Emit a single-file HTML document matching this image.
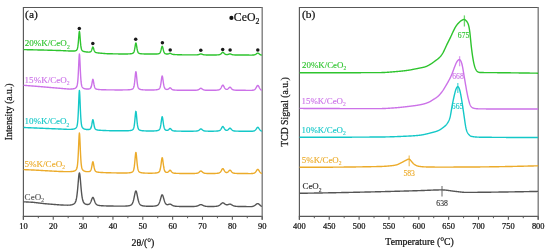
<!DOCTYPE html>
<html><head><meta charset="utf-8"><style>
html,body{margin:0;padding:0;background:#fff;}
svg{display:block;font-family:'Liberation Serif', 'Times New Roman', serif;}
</style></head><body>
<svg width="550" height="251" viewBox="0 0 550 251">
<rect width="550" height="251" fill="#fff"/>
<path d="M23.4,219.70000000000002 L23.4,7.5 L262.2,7.5" fill="none" stroke="#585858" stroke-width="1.15"/>
<line x1="22.849999999999998" y1="216.4" x2="262.8" y2="216.4" stroke="#585858" stroke-width="1.15"/>
<line x1="262.2" y1="6.95" x2="262.2" y2="219.70000000000002" stroke="#7a7a7a" stroke-width="1.35"/>
<line x1="23.40" y1="216.4" x2="23.40" y2="219.70000000000002" stroke="#585858" stroke-width="1.1"/>
<text x="23.40" y="229.0" font-size="8.5" fill="#111" stroke="#111" stroke-width="0.22" text-anchor="middle" >10</text>
<line x1="38.32" y1="216.4" x2="38.32" y2="218.20000000000002" stroke="#585858" stroke-width="1.0"/>
<line x1="53.25" y1="216.4" x2="53.25" y2="219.70000000000002" stroke="#585858" stroke-width="1.1"/>
<text x="53.25" y="229.0" font-size="8.5" fill="#111" stroke="#111" stroke-width="0.22" text-anchor="middle" >20</text>
<line x1="68.17" y1="216.4" x2="68.17" y2="218.20000000000002" stroke="#585858" stroke-width="1.0"/>
<line x1="83.10" y1="216.4" x2="83.10" y2="219.70000000000002" stroke="#585858" stroke-width="1.1"/>
<text x="83.10" y="229.0" font-size="8.5" fill="#111" stroke="#111" stroke-width="0.22" text-anchor="middle" >30</text>
<line x1="98.02" y1="216.4" x2="98.02" y2="218.20000000000002" stroke="#585858" stroke-width="1.0"/>
<line x1="112.95" y1="216.4" x2="112.95" y2="219.70000000000002" stroke="#585858" stroke-width="1.1"/>
<text x="112.95" y="229.0" font-size="8.5" fill="#111" stroke="#111" stroke-width="0.22" text-anchor="middle" >40</text>
<line x1="127.87" y1="216.4" x2="127.87" y2="218.20000000000002" stroke="#585858" stroke-width="1.0"/>
<line x1="142.80" y1="216.4" x2="142.80" y2="219.70000000000002" stroke="#585858" stroke-width="1.1"/>
<text x="142.80" y="229.0" font-size="8.5" fill="#111" stroke="#111" stroke-width="0.22" text-anchor="middle" >50</text>
<line x1="157.72" y1="216.4" x2="157.72" y2="218.20000000000002" stroke="#585858" stroke-width="1.0"/>
<line x1="172.65" y1="216.4" x2="172.65" y2="219.70000000000002" stroke="#585858" stroke-width="1.1"/>
<text x="172.65" y="229.0" font-size="8.5" fill="#111" stroke="#111" stroke-width="0.22" text-anchor="middle" >60</text>
<line x1="187.58" y1="216.4" x2="187.58" y2="218.20000000000002" stroke="#585858" stroke-width="1.0"/>
<line x1="202.50" y1="216.4" x2="202.50" y2="219.70000000000002" stroke="#585858" stroke-width="1.1"/>
<text x="202.50" y="229.0" font-size="8.5" fill="#111" stroke="#111" stroke-width="0.22" text-anchor="middle" >70</text>
<line x1="217.43" y1="216.4" x2="217.43" y2="218.20000000000002" stroke="#585858" stroke-width="1.0"/>
<line x1="232.35" y1="216.4" x2="232.35" y2="219.70000000000002" stroke="#585858" stroke-width="1.1"/>
<text x="232.35" y="229.0" font-size="8.5" fill="#111" stroke="#111" stroke-width="0.22" text-anchor="middle" >80</text>
<line x1="247.28" y1="216.4" x2="247.28" y2="218.20000000000002" stroke="#585858" stroke-width="1.0"/>
<line x1="262.20" y1="216.4" x2="262.20" y2="219.70000000000002" stroke="#585858" stroke-width="1.1"/>
<text x="262.20" y="229.0" font-size="8.5" fill="#111" stroke="#111" stroke-width="0.22" text-anchor="middle" >90</text>
<path d="M299.4,219.70000000000002 L299.4,7.5 L538.2,7.5" fill="none" stroke="#585858" stroke-width="1.15"/>
<line x1="298.84999999999997" y1="216.4" x2="538.8000000000001" y2="216.4" stroke="#585858" stroke-width="1.15"/>
<line x1="538.2" y1="6.95" x2="538.2" y2="219.70000000000002" stroke="#7a7a7a" stroke-width="1.35"/>
<line x1="299.40" y1="216.4" x2="299.40" y2="219.70000000000002" stroke="#585858" stroke-width="1.1"/>
<text x="299.40" y="229.0" font-size="8.4" fill="#111" stroke="#111" stroke-width="0.22" text-anchor="middle" >400</text>
<line x1="314.32" y1="216.4" x2="314.32" y2="218.20000000000002" stroke="#585858" stroke-width="1.0"/>
<line x1="329.25" y1="216.4" x2="329.25" y2="219.70000000000002" stroke="#585858" stroke-width="1.1"/>
<text x="329.25" y="229.0" font-size="8.4" fill="#111" stroke="#111" stroke-width="0.22" text-anchor="middle" >450</text>
<line x1="344.18" y1="216.4" x2="344.18" y2="218.20000000000002" stroke="#585858" stroke-width="1.0"/>
<line x1="359.10" y1="216.4" x2="359.10" y2="219.70000000000002" stroke="#585858" stroke-width="1.1"/>
<text x="359.10" y="229.0" font-size="8.4" fill="#111" stroke="#111" stroke-width="0.22" text-anchor="middle" >500</text>
<line x1="374.03" y1="216.4" x2="374.03" y2="218.20000000000002" stroke="#585858" stroke-width="1.0"/>
<line x1="388.95" y1="216.4" x2="388.95" y2="219.70000000000002" stroke="#585858" stroke-width="1.1"/>
<text x="388.95" y="229.0" font-size="8.4" fill="#111" stroke="#111" stroke-width="0.22" text-anchor="middle" >550</text>
<line x1="403.88" y1="216.4" x2="403.88" y2="218.20000000000002" stroke="#585858" stroke-width="1.0"/>
<line x1="418.80" y1="216.4" x2="418.80" y2="219.70000000000002" stroke="#585858" stroke-width="1.1"/>
<text x="418.80" y="229.0" font-size="8.4" fill="#111" stroke="#111" stroke-width="0.22" text-anchor="middle" >600</text>
<line x1="433.73" y1="216.4" x2="433.73" y2="218.20000000000002" stroke="#585858" stroke-width="1.0"/>
<line x1="448.65" y1="216.4" x2="448.65" y2="219.70000000000002" stroke="#585858" stroke-width="1.1"/>
<text x="448.65" y="229.0" font-size="8.4" fill="#111" stroke="#111" stroke-width="0.22" text-anchor="middle" >650</text>
<line x1="463.58" y1="216.4" x2="463.58" y2="218.20000000000002" stroke="#585858" stroke-width="1.0"/>
<line x1="478.50" y1="216.4" x2="478.50" y2="219.70000000000002" stroke="#585858" stroke-width="1.1"/>
<text x="478.50" y="229.0" font-size="8.4" fill="#111" stroke="#111" stroke-width="0.22" text-anchor="middle" >700</text>
<line x1="493.43" y1="216.4" x2="493.43" y2="218.20000000000002" stroke="#585858" stroke-width="1.0"/>
<line x1="508.35" y1="216.4" x2="508.35" y2="219.70000000000002" stroke="#585858" stroke-width="1.1"/>
<text x="508.35" y="229.0" font-size="8.4" fill="#111" stroke="#111" stroke-width="0.22" text-anchor="middle" >750</text>
<line x1="523.27" y1="216.4" x2="523.27" y2="218.20000000000002" stroke="#585858" stroke-width="1.0"/>
<line x1="538.20" y1="216.4" x2="538.20" y2="219.70000000000002" stroke="#585858" stroke-width="1.1"/>
<text x="538.20" y="229.0" font-size="8.4" fill="#111" stroke="#111" stroke-width="0.22" text-anchor="middle" >800</text>
<polyline points="23.60,49.60 23.85,49.61 24.10,49.61 24.35,49.62 24.60,49.62 24.85,49.63 25.10,49.64 25.35,49.64 25.60,49.65 25.85,49.65 26.10,49.66 26.35,49.66 26.60,49.67 26.85,49.68 27.10,49.68 27.35,49.69 27.60,49.69 27.85,49.70 28.10,49.71 28.35,49.71 28.60,49.72 28.85,49.72 29.10,49.73 29.35,49.74 29.60,49.74 29.85,49.75 30.10,49.75 30.35,49.76 30.60,49.76 30.85,49.77 31.10,49.78 31.35,49.78 31.60,49.79 31.85,49.79 32.10,49.80 32.35,49.81 32.60,49.81 32.85,49.82 33.10,49.82 33.35,49.83 33.60,49.83 33.85,49.84 34.10,49.85 34.35,49.85 34.60,49.86 34.85,49.86 35.10,49.87 35.35,49.88 35.60,49.88 35.85,49.89 36.10,49.89 36.35,49.90 36.60,49.91 36.85,49.91 37.10,49.92 37.35,49.92 37.60,49.93 37.85,49.93 38.10,49.94 38.35,49.95 38.60,49.95 38.85,49.96 39.10,49.96 39.35,49.97 39.60,49.97 39.85,49.98 40.10,49.99 40.35,49.99 40.60,50.00 40.85,50.00 41.10,50.01 41.35,50.02 41.60,50.02 41.85,50.03 42.10,50.03 42.35,50.04 42.60,50.04 42.85,50.05 43.10,50.06 43.35,50.06 43.60,50.07 43.85,50.07 44.10,50.08 44.35,50.09 44.60,50.09 44.85,50.10 45.10,50.10 45.35,50.11 45.60,50.12 45.85,50.13 46.10,50.13 46.35,50.14 46.60,50.15 46.85,50.16 47.10,50.16 47.35,50.17 47.60,50.18 47.85,50.19 48.10,50.19 48.35,50.20 48.60,50.21 48.85,50.22 49.10,50.23 49.35,50.23 49.60,50.24 49.85,50.25 50.10,50.26 50.35,50.26 50.60,50.27 50.85,50.28 51.10,50.29 51.35,50.29 51.60,50.30 51.85,50.31 52.10,50.32 52.35,50.32 52.60,50.33 52.85,50.34 53.10,50.35 53.35,50.35 53.60,50.36 53.85,50.37 54.10,50.38 54.35,50.38 54.60,50.39 54.85,50.40 55.10,50.41 55.35,50.41 55.60,50.42 55.85,50.43 56.10,50.43 56.35,50.44 56.60,50.45 56.85,50.46 57.10,50.46 57.35,50.47 57.60,50.48 57.85,50.49 58.10,50.49 58.35,50.50 58.60,50.51 58.85,50.51 59.10,50.52 59.35,50.53 59.60,50.53 59.85,50.54 60.10,50.55 60.35,50.56 60.60,50.56 60.85,50.57 61.10,50.58 61.35,50.58 61.60,50.59 61.85,50.60 62.10,50.61 62.35,50.62 62.60,50.63 62.85,50.65 63.10,50.66 63.35,50.68 63.60,50.69 63.85,50.71 64.10,50.72 64.35,50.73 64.60,50.75 64.85,50.76 65.10,50.77 65.35,50.79 65.60,50.80 65.85,50.81 66.10,50.83 66.35,50.84 66.60,50.85 66.85,50.86 67.10,50.88 67.35,50.89 67.60,50.90 67.85,50.91 68.10,50.92 68.35,50.94 68.60,50.95 68.85,50.96 69.10,50.97 69.35,50.98 69.60,50.99 69.85,50.99 70.10,51.00 70.35,51.01 70.60,51.02 70.85,51.03 71.10,51.04 71.35,51.04 71.60,51.05 71.85,51.05 72.10,51.06 72.35,51.06 72.60,51.06 72.85,51.05 73.10,51.05 73.35,51.04 73.60,51.03 73.85,51.02 74.10,51.00 74.35,50.97 74.60,50.94 74.85,50.90 75.10,50.85 75.35,50.80 75.60,50.72 75.85,50.63 76.10,50.51 76.35,50.36 76.60,50.15 76.85,49.86 77.10,49.44 77.35,48.80 77.60,47.85 77.85,46.46 78.10,44.53 78.35,42.00 78.60,38.96 78.85,35.69 79.10,32.86 79.35,31.44 79.60,32.10 79.85,34.51 80.10,37.74 80.35,40.96 80.60,43.75 80.85,45.95 81.10,47.58 81.35,48.72 81.60,49.51 81.85,50.04 82.10,50.41 82.35,50.68 82.60,50.88 82.85,51.04 83.10,51.18 83.35,51.29 83.60,51.39 83.85,51.47 84.10,51.54 84.35,51.61 84.60,51.67 84.85,51.72 85.10,51.77 85.35,51.81 85.60,51.85 85.85,51.88 86.10,51.92 86.35,51.95 86.60,51.97 86.85,52.00 87.10,52.02 87.35,52.04 87.60,52.05 87.85,52.07 88.10,52.08 88.35,52.09 88.60,52.09 88.85,52.09 89.10,52.08 89.35,52.07 89.60,52.05 89.85,52.01 90.10,51.95 90.35,51.86 90.60,51.72 90.85,51.51 91.10,51.21 91.35,50.79 91.60,50.23 91.85,49.55 92.10,48.77 92.35,47.97 92.60,47.31 92.85,47.01 93.10,47.17 93.35,47.75 93.60,48.55 93.85,49.40 94.10,50.17 94.35,50.81 94.60,51.33 94.85,51.71 95.10,52.00 95.35,52.20 95.60,52.35 95.85,52.47 96.10,52.55 96.35,52.62 96.60,52.68 96.85,52.73 97.10,52.78 97.35,52.82 97.60,52.86 97.85,52.90 98.10,52.93 98.35,52.96 98.60,52.99 98.85,53.02 99.10,53.05 99.35,53.07 99.60,53.10 99.85,53.12 100.10,53.15 100.35,53.17 100.60,53.19 100.85,53.22 101.10,53.24 101.35,53.26 101.60,53.28 101.85,53.30 102.10,53.32 102.35,53.34 102.60,53.36 102.85,53.38 103.10,53.40 103.35,53.42 103.60,53.44 103.85,53.46 104.10,53.48 104.35,53.50 104.60,53.52 104.85,53.54 105.10,53.56 105.35,53.58 105.60,53.60 105.85,53.61 106.10,53.63 106.35,53.65 106.60,53.67 106.85,53.69 107.10,53.70 107.35,53.71 107.60,53.71 107.85,53.72 108.10,53.73 108.35,53.73 108.60,53.74 108.85,53.74 109.10,53.75 109.35,53.75 109.60,53.76 109.85,53.76 110.10,53.77 110.35,53.77 110.60,53.78 110.85,53.78 111.10,53.79 111.35,53.79 111.60,53.80 111.85,53.80 112.10,53.81 112.35,53.82 112.60,53.82 112.85,53.83 113.10,53.83 113.35,53.84 113.60,53.84 113.85,53.84 114.10,53.85 114.35,53.85 114.60,53.86 114.85,53.86 115.10,53.87 115.35,53.87 115.60,53.88 115.85,53.88 116.10,53.89 116.35,53.89 116.60,53.90 116.85,53.90 117.10,53.91 117.35,53.91 117.60,53.92 117.85,53.92 118.10,53.92 118.35,53.93 118.60,53.93 118.85,53.94 119.10,53.94 119.35,53.95 119.60,53.95 119.85,53.95 120.10,53.96 120.35,53.96 120.60,53.97 120.85,53.97 121.10,53.97 121.35,53.98 121.60,53.98 121.85,53.98 122.10,53.99 122.35,53.99 122.60,53.99 122.85,54.00 123.10,54.00 123.35,54.00 123.60,54.00 123.85,53.99 124.10,53.99 124.35,53.99 124.60,53.99 124.85,53.98 125.10,53.98 125.35,53.98 125.60,53.98 125.85,53.97 126.10,53.97 126.35,53.96 126.60,53.96 126.85,53.95 127.10,53.95 127.35,53.94 127.60,53.94 127.85,53.93 128.10,53.92 128.35,53.91 128.60,53.90 128.85,53.89 129.10,53.88 129.35,53.87 129.60,53.85 129.85,53.84 130.10,53.82 130.35,53.80 130.60,53.77 130.85,53.75 131.10,53.71 131.35,53.68 131.60,53.64 131.85,53.58 132.10,53.52 132.35,53.45 132.60,53.36 132.85,53.24 133.10,53.08 133.35,52.86 133.60,52.54 133.85,52.09 134.10,51.45 134.35,50.58 134.60,49.45 134.85,48.07 135.10,46.49 135.35,44.89 135.60,43.56 135.85,42.92 136.10,43.20 136.35,44.30 136.60,45.84 136.85,47.46 137.10,48.93 137.35,50.16 137.60,51.13 137.85,51.86 138.10,52.38 138.35,52.75 138.60,53.00 138.85,53.18 139.10,53.32 139.35,53.42 139.60,53.50 139.85,53.57 140.10,53.62 140.35,53.67 140.60,53.71 140.85,53.74 141.10,53.77 141.35,53.79 141.60,53.82 141.85,53.84 142.10,53.85 142.35,53.87 142.60,53.88 142.85,53.89 143.10,53.91 143.35,53.92 143.60,53.92 143.85,53.93 144.10,53.94 144.35,53.95 144.60,53.95 144.85,53.96 145.10,53.96 145.35,53.97 145.60,53.97 145.85,53.98 146.10,53.98 146.35,53.98 146.60,53.99 146.85,53.99 147.10,53.99 147.35,53.99 147.60,53.99 147.85,54.00 148.10,54.00 148.35,54.00 148.60,54.00 148.85,54.00 149.10,54.00 149.35,54.00 149.60,54.00 149.85,54.00 150.10,54.00 150.35,54.01 150.60,54.01 150.85,54.02 151.10,54.02 151.35,54.03 151.60,54.03 151.85,54.03 152.10,54.04 152.35,54.04 152.60,54.04 152.85,54.05 153.10,54.05 153.35,54.05 153.60,54.05 153.85,54.05 154.10,54.05 154.35,54.05 154.60,54.05 154.85,54.05 155.10,54.05 155.35,54.04 155.60,54.04 155.85,54.03 156.10,54.02 156.35,54.01 156.60,54.00 156.85,53.99 157.10,53.97 157.35,53.95 157.60,53.92 157.85,53.89 158.10,53.86 158.35,53.81 158.60,53.75 158.85,53.68 159.10,53.58 159.35,53.44 159.60,53.25 159.85,52.99 160.10,52.62 160.35,52.13 160.60,51.49 160.85,50.68 161.10,49.73 161.35,48.68 161.60,47.62 161.85,46.74 162.10,46.24 162.35,46.31 162.60,46.90 162.85,47.85 163.10,48.93 163.35,49.98 163.60,50.91 163.85,51.69 164.10,52.31 164.35,52.78 164.60,53.13 164.85,53.39 165.10,53.57 165.35,53.71 165.60,53.81 165.85,53.88 166.10,53.94 166.35,53.98 166.60,54.02 166.85,54.04 167.10,54.05 167.35,54.05 167.60,54.03 167.85,54.00 168.10,53.95 168.35,53.88 168.60,53.80 168.85,53.70 169.10,53.59 169.35,53.48 169.60,53.38 169.85,53.32 170.10,53.30 170.35,53.34 170.60,53.43 170.85,53.56 171.10,53.70 171.35,53.84 171.60,53.97 171.85,54.08 172.10,54.18 172.35,54.26 172.60,54.33 172.85,54.38 173.10,54.42 173.35,54.46 173.60,54.49 173.85,54.51 174.10,54.53 174.35,54.55 174.60,54.56 174.85,54.58 175.10,54.59 175.35,54.60 175.60,54.61 175.85,54.62 176.10,54.64 176.35,54.65 176.60,54.66 176.85,54.66 177.10,54.67 177.35,54.68 177.60,54.69 177.85,54.70 178.10,54.71 178.35,54.72 178.60,54.72 178.85,54.73 179.10,54.74 179.35,54.75 179.60,54.75 179.85,54.76 180.10,54.77 180.35,54.78 180.60,54.78 180.85,54.79 181.10,54.80 181.35,54.80 181.60,54.81 181.85,54.82 182.10,54.83 182.35,54.83 182.60,54.84 182.85,54.84 183.10,54.85 183.35,54.86 183.60,54.86 183.85,54.87 184.10,54.88 184.35,54.88 184.60,54.89 184.85,54.90 185.10,54.90 185.35,54.90 185.60,54.90 185.85,54.90 186.10,54.91 186.35,54.91 186.60,54.91 186.85,54.91 187.10,54.91 187.35,54.91 187.60,54.91 187.85,54.91 188.10,54.92 188.35,54.92 188.60,54.92 188.85,54.92 189.10,54.92 189.35,54.92 189.60,54.92 189.85,54.92 190.10,54.92 190.35,54.92 190.60,54.92 190.85,54.92 191.10,54.92 191.35,54.92 191.60,54.92 191.85,54.92 192.10,54.92 192.35,54.92 192.60,54.92 192.85,54.92 193.10,54.92 193.35,54.92 193.60,54.92 193.85,54.92 194.10,54.92 194.35,54.92 194.60,54.91 194.85,54.91 195.10,54.91 195.35,54.90 195.60,54.90 195.85,54.89 196.10,54.89 196.35,54.88 196.60,54.87 196.85,54.85 197.10,54.84 197.35,54.82 197.60,54.79 197.85,54.75 198.10,54.71 198.35,54.66 198.60,54.60 198.85,54.52 199.10,54.44 199.35,54.35 199.60,54.25 199.85,54.16 200.10,54.06 200.35,53.98 200.60,53.93 200.85,53.90 201.10,53.91 201.35,53.96 201.60,54.03 201.85,54.13 202.10,54.22 202.35,54.32 202.60,54.42 202.85,54.51 203.10,54.59 203.35,54.65 203.60,54.71 203.85,54.76 204.10,54.80 204.35,54.83 204.60,54.86 204.85,54.88 205.10,54.90 205.35,54.91 205.60,54.92 205.85,54.93 206.10,54.94 206.35,54.95 206.60,54.95 206.85,54.96 207.10,54.96 207.35,54.97 207.60,54.97 207.85,54.98 208.10,54.98 208.35,54.98 208.60,54.98 208.85,54.99 209.10,54.99 209.35,54.99 209.60,54.99 209.85,54.99 210.10,54.99 210.35,55.00 210.60,55.00 210.85,55.00 211.10,55.00 211.35,55.00 211.60,55.00 211.85,55.00 212.10,55.00 212.35,55.00 212.60,55.00 212.85,54.99 213.10,54.99 213.35,54.99 213.60,54.99 213.85,54.99 214.10,54.98 214.35,54.98 214.60,54.98 214.85,54.97 215.10,54.97 215.35,54.96 215.60,54.96 215.85,54.95 216.10,54.94 216.35,54.94 216.60,54.93 216.85,54.92 217.10,54.91 217.35,54.90 217.60,54.88 217.85,54.87 218.10,54.85 218.35,54.83 218.60,54.80 218.85,54.76 219.10,54.72 219.35,54.66 219.60,54.59 219.85,54.51 220.10,54.40 220.35,54.26 220.60,54.10 220.85,53.91 221.10,53.69 221.35,53.44 221.60,53.18 221.85,52.92 222.10,52.67 222.35,52.47 222.60,52.34 222.85,52.30 223.10,52.37 223.35,52.53 223.60,52.75 223.85,53.00 224.10,53.26 224.35,53.51 224.60,53.74 224.85,53.95 225.10,54.12 225.35,54.26 225.60,54.37 225.85,54.46 226.10,54.53 226.35,54.57 226.60,54.60 226.85,54.61 227.10,54.61 227.35,54.59 227.60,54.55 227.85,54.51 228.10,54.44 228.35,54.37 228.60,54.28 228.85,54.19 229.10,54.10 229.35,54.01 229.60,53.94 229.85,53.90 230.10,53.91 230.35,53.95 230.60,54.02 230.85,54.11 231.10,54.22 231.35,54.33 231.60,54.43 231.85,54.52 232.10,54.60 232.35,54.67 232.60,54.73 232.85,54.78 233.10,54.82 233.35,54.85 233.60,54.87 233.85,54.89 234.10,54.91 234.35,54.92 234.60,54.93 234.85,54.94 235.10,54.95 235.35,54.95 235.60,54.96 235.85,54.97 236.10,54.97 236.35,54.97 236.60,54.98 236.85,54.98 237.10,54.98 237.35,54.99 237.60,54.99 237.85,54.99 238.10,54.99 238.35,54.99 238.60,54.99 238.85,55.00 239.10,55.00 239.35,55.00 239.60,55.00 239.85,55.00 240.10,55.00 240.35,55.00 240.60,55.00 240.85,55.00 241.10,55.00 241.35,55.00 241.60,55.00 241.85,55.00 242.10,55.00 242.35,55.00 242.60,55.00 242.85,55.00 243.10,55.00 243.35,55.00 243.60,55.00 243.85,55.00 244.10,55.00 244.35,55.00 244.60,55.00 244.85,55.00 245.10,55.00 245.35,55.01 245.60,55.01 245.85,55.02 246.10,55.02 246.35,55.03 246.60,55.03 246.85,55.04 247.10,55.04 247.35,55.05 247.60,55.05 247.85,55.06 248.10,55.06 248.35,55.06 248.60,55.07 248.85,55.07 249.10,55.07 249.35,55.08 249.60,55.08 249.85,55.08 250.10,55.08 250.35,55.09 250.60,55.09 250.85,55.09 251.10,55.09 251.35,55.09 251.60,55.08 251.85,55.08 252.10,55.08 252.35,55.07 252.60,55.06 252.85,55.05 253.10,55.03 253.35,55.01 253.60,54.99 253.85,54.96 254.10,54.91 254.35,54.86 254.60,54.79 254.85,54.71 255.10,54.62 255.35,54.50 255.60,54.36 255.85,54.21 256.10,54.04 256.35,53.86 256.60,53.67 256.85,53.49 257.10,53.32 257.35,53.19 257.60,53.12 257.85,53.10 258.10,53.16 258.35,53.27 258.60,53.43 258.85,53.61 259.10,53.81 259.35,54.01 259.60,54.20 259.85,54.38 260.10,54.54 260.35,54.68 260.60,54.80 260.85,54.90 261.10,54.99 261.35,55.06 261.60,55.12 261.85,55.17" fill="none" stroke="#2ec42e" stroke-width="1.4" stroke-linejoin="round"/>
<polyline points="299.60,72.70 299.85,72.70 300.10,72.70 300.35,72.70 300.60,72.70 300.85,72.70 301.10,72.70 301.35,72.70 301.60,72.70 301.85,72.70 302.10,72.70 302.35,72.70 302.60,72.70 302.85,72.70 303.10,72.70 303.35,72.70 303.60,72.70 303.85,72.70 304.10,72.70 304.35,72.70 304.60,72.70 304.85,72.70 305.10,72.70 305.35,72.70 305.60,72.70 305.85,72.70 306.10,72.70 306.35,72.70 306.60,72.70 306.85,72.70 307.10,72.70 307.35,72.70 307.60,72.70 307.85,72.70 308.10,72.70 308.35,72.70 308.60,72.70 308.85,72.70 309.10,72.70 309.35,72.70 309.60,72.70 309.85,72.70 310.10,72.70 310.35,72.70 310.60,72.70 310.85,72.70 311.10,72.70 311.35,72.70 311.60,72.70 311.85,72.70 312.10,72.70 312.35,72.70 312.60,72.70 312.85,72.70 313.10,72.70 313.35,72.70 313.60,72.70 313.85,72.70 314.10,72.70 314.35,72.70 314.60,72.70 314.85,72.70 315.10,72.70 315.35,72.70 315.60,72.70 315.85,72.70 316.10,72.70 316.35,72.70 316.60,72.70 316.85,72.70 317.10,72.70 317.35,72.70 317.60,72.70 317.85,72.70 318.10,72.70 318.35,72.70 318.60,72.70 318.85,72.70 319.10,72.70 319.35,72.70 319.60,72.70 319.85,72.70 320.10,72.70 320.35,72.70 320.60,72.70 320.85,72.70 321.10,72.70 321.35,72.70 321.60,72.70 321.85,72.70 322.10,72.70 322.35,72.70 322.60,72.70 322.85,72.70 323.10,72.70 323.35,72.70 323.60,72.70 323.85,72.70 324.10,72.70 324.35,72.70 324.60,72.70 324.85,72.70 325.10,72.70 325.35,72.70 325.60,72.70 325.85,72.70 326.10,72.70 326.35,72.70 326.60,72.70 326.85,72.70 327.10,72.70 327.35,72.70 327.60,72.70 327.85,72.70 328.10,72.70 328.35,72.70 328.60,72.70 328.85,72.70 329.10,72.70 329.35,72.70 329.60,72.70 329.85,72.70 330.10,72.70 330.35,72.70 330.60,72.70 330.85,72.70 331.10,72.70 331.35,72.70 331.60,72.70 331.85,72.70 332.10,72.70 332.35,72.70 332.60,72.70 332.85,72.70 333.10,72.70 333.35,72.70 333.60,72.70 333.85,72.70 334.10,72.70 334.35,72.70 334.60,72.70 334.85,72.70 335.10,72.70 335.35,72.70 335.60,72.70 335.85,72.70 336.10,72.70 336.35,72.70 336.60,72.70 336.85,72.70 337.10,72.70 337.35,72.70 337.60,72.70 337.85,72.70 338.10,72.70 338.35,72.70 338.60,72.70 338.85,72.70 339.10,72.70 339.35,72.70 339.60,72.70 339.85,72.70 340.10,72.70 340.35,72.70 340.60,72.70 340.85,72.70 341.10,72.70 341.35,72.70 341.60,72.70 341.85,72.70 342.10,72.70 342.35,72.70 342.60,72.70 342.85,72.70 343.10,72.70 343.35,72.70 343.60,72.70 343.85,72.70 344.10,72.70 344.35,72.70 344.60,72.70 344.85,72.70 345.10,72.70 345.35,72.70 345.60,72.70 345.85,72.70 346.10,72.70 346.35,72.70 346.60,72.70 346.85,72.70 347.10,72.70 347.35,72.70 347.60,72.70 347.85,72.70 348.10,72.70 348.35,72.70 348.60,72.70 348.85,72.70 349.10,72.70 349.35,72.70 349.60,72.70 349.85,72.69 350.10,72.69 350.35,72.69 350.60,72.69 350.85,72.69 351.10,72.69 351.35,72.69 351.60,72.69 351.85,72.69 352.10,72.69 352.35,72.69 352.60,72.69 352.85,72.69 353.10,72.69 353.35,72.69 353.60,72.69 353.85,72.69 354.10,72.69 354.35,72.69 354.60,72.69 354.85,72.69 355.10,72.69 355.35,72.69 355.60,72.69 355.85,72.69 356.10,72.69 356.35,72.69 356.60,72.68 356.85,72.68 357.10,72.68 357.35,72.68 357.60,72.68 357.85,72.68 358.10,72.68 358.35,72.68 358.60,72.68 358.85,72.68 359.10,72.68 359.35,72.68 359.60,72.68 359.85,72.68 360.10,72.68 360.35,72.68 360.60,72.68 360.85,72.68 361.10,72.67 361.35,72.67 361.60,72.67 361.85,72.67 362.10,72.67 362.35,72.67 362.60,72.67 362.85,72.67 363.10,72.67 363.35,72.67 363.60,72.67 363.85,72.67 364.10,72.67 364.35,72.67 364.60,72.67 364.85,72.66 365.10,72.66 365.35,72.66 365.60,72.66 365.85,72.66 366.10,72.66 366.35,72.66 366.60,72.66 366.85,72.66 367.10,72.66 367.35,72.66 367.60,72.66 367.85,72.65 368.10,72.65 368.35,72.65 368.60,72.65 368.85,72.65 369.10,72.65 369.35,72.65 369.60,72.65 369.85,72.65 370.10,72.65 370.35,72.65 370.60,72.64 370.85,72.64 371.10,72.64 371.35,72.64 371.60,72.64 371.85,72.64 372.10,72.64 372.35,72.64 372.60,72.64 372.85,72.64 373.10,72.63 373.35,72.63 373.60,72.63 373.85,72.63 374.10,72.63 374.35,72.63 374.60,72.63 374.85,72.63 375.10,72.62 375.35,72.62 375.60,72.62 375.85,72.62 376.10,72.62 376.35,72.62 376.60,72.62 376.85,72.62 377.10,72.62 377.35,72.61 377.60,72.61 377.85,72.61 378.10,72.61 378.35,72.61 378.60,72.61 378.85,72.61 379.10,72.60 379.35,72.60 379.60,72.60 379.85,72.60 380.10,72.60 380.35,72.60 380.60,72.59 380.85,72.59 381.10,72.58 381.35,72.58 381.60,72.57 381.85,72.57 382.10,72.56 382.35,72.55 382.60,72.55 382.85,72.54 383.10,72.53 383.35,72.52 383.60,72.51 383.85,72.50 384.10,72.49 384.35,72.47 384.60,72.46 384.85,72.45 385.10,72.43 385.35,72.42 385.60,72.41 385.85,72.39 386.10,72.38 386.35,72.36 386.60,72.34 386.85,72.33 387.10,72.31 387.35,72.29 387.60,72.28 387.85,72.26 388.10,72.24 388.35,72.22 388.60,72.20 388.85,72.19 389.10,72.17 389.35,72.15 389.60,72.13 389.85,72.11 390.10,72.09 390.35,72.07 390.60,72.05 390.85,72.03 391.10,72.01 391.35,71.99 391.60,71.97 391.85,71.95 392.10,71.92 392.35,71.90 392.60,71.88 392.85,71.86 393.10,71.84 393.35,71.82 393.60,71.80 393.85,71.78 394.10,71.76 394.35,71.74 394.60,71.71 394.85,71.69 395.10,71.67 395.35,71.65 395.60,71.63 395.85,71.61 396.10,71.59 396.35,71.57 396.60,71.55 396.85,71.53 397.10,71.51 397.35,71.49 397.60,71.47 397.85,71.44 398.10,71.42 398.35,71.40 398.60,71.38 398.85,71.35 399.10,71.33 399.35,71.31 399.60,71.28 399.85,71.26 400.10,71.23 400.35,71.21 400.60,71.18 400.85,71.16 401.10,71.13 401.35,71.11 401.60,71.08 401.85,71.05 402.10,71.03 402.35,71.00 402.60,70.97 402.85,70.95 403.10,70.92 403.35,70.89 403.60,70.86 403.85,70.83 404.10,70.80 404.35,70.77 404.60,70.74 404.85,70.71 405.10,70.68 405.35,70.65 405.60,70.62 405.85,70.59 406.10,70.55 406.35,70.52 406.60,70.49 406.85,70.46 407.10,70.42 407.35,70.39 407.60,70.35 407.85,70.32 408.10,70.28 408.35,70.25 408.60,70.21 408.85,70.17 409.10,70.13 409.35,70.09 409.60,70.05 409.85,70.00 410.10,69.96 410.35,69.92 410.60,69.87 410.85,69.82 411.10,69.78 411.35,69.73 411.60,69.68 411.85,69.63 412.10,69.58 412.35,69.53 412.60,69.48 412.85,69.43 413.10,69.38 413.35,69.33 413.60,69.28 413.85,69.23 414.10,69.18 414.35,69.13 414.60,69.08 414.85,69.03 415.10,68.98 415.35,68.93 415.60,68.88 415.85,68.83 416.10,68.78 416.35,68.73 416.60,68.68 416.85,68.63 417.10,68.58 417.35,68.54 417.60,68.49 417.85,68.44 418.10,68.39 418.35,68.34 418.60,68.29 418.85,68.24 419.10,68.19 419.35,68.13 419.60,68.08 419.85,68.03 420.10,67.98 420.35,67.93 420.60,67.88 420.85,67.83 421.10,67.78 421.35,67.73 421.60,67.68 421.85,67.63 422.10,67.59 422.35,67.54 422.60,67.48 422.85,67.43 423.10,67.38 423.35,67.32 423.60,67.26 423.85,67.20 424.10,67.14 424.35,67.07 424.60,67.01 424.85,66.93 425.10,66.85 425.35,66.77 425.60,66.68 425.85,66.59 426.10,66.49 426.35,66.39 426.60,66.28 426.85,66.17 427.10,66.05 427.35,65.93 427.60,65.81 427.85,65.68 428.10,65.55 428.35,65.42 428.60,65.28 428.85,65.14 429.10,65.01 429.35,64.87 429.60,64.72 429.85,64.58 430.10,64.43 430.35,64.28 430.60,64.13 430.85,63.98 431.10,63.81 431.35,63.65 431.60,63.48 431.85,63.31 432.10,63.14 432.35,62.96 432.60,62.78 432.85,62.60 433.10,62.42 433.35,62.23 433.60,62.05 433.85,61.86 434.10,61.68 434.35,61.49 434.60,61.30 434.85,61.12 435.10,60.93 435.35,60.75 435.60,60.56 435.85,60.38 436.10,60.20 436.35,60.02 436.60,59.84 436.85,59.66 437.10,59.47 437.35,59.29 437.60,59.10 437.85,58.90 438.10,58.71 438.35,58.50 438.60,58.29 438.85,58.07 439.10,57.85 439.35,57.62 439.60,57.37 439.85,57.12 440.10,56.85 440.35,56.57 440.60,56.28 440.85,55.97 441.10,55.65 441.35,55.31 441.60,54.96 441.85,54.60 442.10,54.22 442.35,53.83 442.60,53.42 442.85,53.00 443.10,52.55 443.35,52.09 443.60,51.61 443.85,51.11 444.10,50.60 444.35,50.08 444.60,49.55 444.85,49.02 445.10,48.48 445.35,47.93 445.60,47.38 445.85,46.83 446.10,46.29 446.35,45.74 446.60,45.20 446.85,44.66 447.10,44.13 447.35,43.61 447.60,43.10 447.85,42.59 448.10,42.09 448.35,41.59 448.60,41.10 448.85,40.60 449.10,40.11 449.35,39.62 449.60,39.12 449.85,38.62 450.10,38.12 450.35,37.61 450.60,37.09 450.85,36.56 451.10,36.02 451.35,35.48 451.60,34.92 451.85,34.37 452.10,33.81 452.35,33.25 452.60,32.71 452.85,32.17 453.10,31.64 453.35,31.11 453.60,30.60 453.85,30.10 454.10,29.60 454.35,29.11 454.60,28.63 454.85,28.16 455.10,27.70 455.35,27.26 455.60,26.84 455.85,26.44 456.10,26.05 456.35,25.68 456.60,25.33 456.85,24.99 457.10,24.67 457.35,24.35 457.60,24.05 457.85,23.75 458.10,23.47 458.35,23.19 458.60,22.93 458.85,22.67 459.10,22.42 459.35,22.18 459.60,21.94 459.85,21.72 460.10,21.50 460.35,21.30 460.60,21.11 460.85,20.93 461.10,20.76 461.35,20.59 461.60,20.44 461.85,20.29 462.10,20.14 462.35,20.00 462.60,19.88 462.85,19.76 463.10,19.67 463.35,19.59 463.60,19.53 463.85,19.50 464.10,19.50 464.35,19.53 464.60,19.60 464.85,19.70 465.10,19.84 465.35,20.01 465.60,20.21 465.85,20.43 466.10,20.68 466.35,20.95 466.60,21.25 466.85,21.56 467.10,21.92 467.35,22.31 467.60,22.77 467.85,23.28 468.10,23.88 468.35,24.58 468.60,25.39 468.85,26.36 469.10,27.52 469.35,28.90 469.60,30.53 469.85,32.44 470.10,34.63 470.35,37.04 470.60,39.59 470.85,42.14 471.10,44.58 471.35,46.86 471.60,48.97 471.85,50.94 472.10,52.82 472.35,54.62 472.60,56.34 472.85,57.96 473.10,59.47 473.35,60.86 473.60,62.12 473.85,63.28 474.10,64.33 474.35,65.30 474.60,66.19 474.85,67.01 475.10,67.76 475.35,68.43 475.60,69.03 475.85,69.54 476.10,69.98 476.35,70.36 476.60,70.69 476.85,70.97 477.10,71.22 477.35,71.45 477.60,71.64 477.85,71.82 478.10,71.97 478.35,72.10 478.60,72.20 478.85,72.29 479.10,72.35 479.35,72.40 479.60,72.44 479.85,72.47 480.10,72.49 480.35,72.50 480.60,72.51 480.85,72.52 481.10,72.53 481.35,72.53 481.60,72.54 481.85,72.54 482.10,72.55 482.35,72.55 482.60,72.56 482.85,72.56 483.10,72.56 483.35,72.57 483.60,72.57 483.85,72.58 484.10,72.58 484.35,72.58 484.60,72.59 484.85,72.59 485.10,72.59 485.35,72.60 485.60,72.60 485.85,72.60 486.10,72.60 486.35,72.61 486.60,72.61 486.85,72.61 487.10,72.61 487.35,72.62 487.60,72.62 487.85,72.62 488.10,72.62 488.35,72.62 488.60,72.63 488.85,72.63 489.10,72.63 489.35,72.63 489.60,72.63 489.85,72.63 490.10,72.64 490.35,72.64 490.60,72.64 490.85,72.64 491.10,72.64 491.35,72.64 491.60,72.64 491.85,72.65 492.10,72.65 492.35,72.65 492.60,72.65 492.85,72.65 493.10,72.65 493.35,72.65 493.60,72.65 493.85,72.66 494.10,72.66 494.35,72.66 494.60,72.66 494.85,72.66 495.10,72.66 495.35,72.66 495.60,72.66 495.85,72.67 496.10,72.67 496.35,72.67 496.60,72.67 496.85,72.67 497.10,72.67 497.35,72.68 497.60,72.68 497.85,72.68 498.10,72.68 498.35,72.68 498.60,72.69 498.85,72.69 499.10,72.69 499.35,72.69 499.60,72.70 499.85,72.70 500.10,72.70 500.35,72.70 500.60,72.71 500.85,72.71 501.10,72.71 501.35,72.72 501.60,72.72 501.85,72.72 502.10,72.72 502.35,72.73 502.60,72.73 502.85,72.73 503.10,72.74 503.35,72.74 503.60,72.74 503.85,72.74 504.10,72.75 504.35,72.75 504.60,72.75 504.85,72.76 505.10,72.76 505.35,72.76 505.60,72.76 505.85,72.77 506.10,72.77 506.35,72.77 506.60,72.78 506.85,72.78 507.10,72.78 507.35,72.78 507.60,72.79 507.85,72.79 508.10,72.79 508.35,72.80 508.60,72.80 508.85,72.80 509.10,72.81 509.35,72.81 509.60,72.81 509.85,72.81 510.10,72.82 510.35,72.82 510.60,72.82 510.85,72.83 511.10,72.83 511.35,72.83 511.60,72.84 511.85,72.84 512.10,72.84 512.35,72.85 512.60,72.85 512.85,72.85 513.10,72.85 513.35,72.86 513.60,72.86 513.85,72.86 514.10,72.87 514.35,72.87 514.60,72.87 514.85,72.88 515.10,72.88 515.35,72.88 515.60,72.89 515.85,72.89 516.10,72.89 516.35,72.90 516.60,72.90 516.85,72.90 517.10,72.90 517.35,72.91 517.60,72.91 517.85,72.91 518.10,72.92 518.35,72.92 518.60,72.92 518.85,72.93 519.10,72.93 519.35,72.93 519.60,72.94 519.85,72.94 520.10,72.94 520.35,72.95 520.60,72.95 520.85,72.95 521.10,72.96 521.35,72.96 521.60,72.96 521.85,72.97 522.10,72.97 522.35,72.97 522.60,72.98 522.85,72.98 523.10,72.98 523.35,72.99 523.60,72.99 523.85,72.99 524.10,73.00 524.35,73.00 524.60,73.00 524.85,73.01 525.10,73.01 525.35,73.01 525.60,73.02 525.85,73.02 526.10,73.02 526.35,73.03 526.60,73.03 526.85,73.03 527.10,73.04 527.35,73.04 527.60,73.05 527.85,73.05 528.10,73.05 528.35,73.06 528.60,73.06 528.85,73.06 529.10,73.07 529.35,73.07 529.60,73.07 529.85,73.08 530.10,73.08 530.35,73.08 530.60,73.09 530.85,73.09 531.10,73.09 531.35,73.10 531.60,73.10 531.85,73.11 532.10,73.11 532.35,73.11 532.60,73.12 532.85,73.12 533.10,73.12 533.35,73.13 533.60,73.13 533.85,73.13 534.10,73.14 534.35,73.14 534.60,73.15 534.85,73.15 535.10,73.15 535.35,73.16 535.60,73.16 535.85,73.16 536.10,73.17 536.35,73.17 536.60,73.17 536.85,73.18 537.10,73.18 537.35,73.19 537.60,73.19 537.85,73.19 538.10,73.19" fill="none" stroke="#2ec42e" stroke-width="1.4" stroke-linejoin="round"/>
<polyline points="23.60,85.30 23.85,85.32 24.10,85.34 24.35,85.36 24.60,85.38 24.85,85.40 25.10,85.42 25.35,85.44 25.60,85.46 25.85,85.48 26.10,85.50 26.35,85.52 26.60,85.54 26.85,85.56 27.10,85.58 27.35,85.60 27.60,85.62 27.85,85.64 28.10,85.66 28.35,85.68 28.60,85.70 28.85,85.72 29.10,85.74 29.35,85.76 29.60,85.78 29.85,85.80 30.10,85.82 30.35,85.84 30.60,85.86 30.85,85.88 31.10,85.90 31.35,85.92 31.60,85.94 31.85,85.96 32.10,85.97 32.35,85.99 32.60,86.01 32.85,86.03 33.10,86.05 33.35,86.07 33.60,86.09 33.85,86.11 34.10,86.13 34.35,86.15 34.60,86.17 34.85,86.19 35.10,86.21 35.35,86.23 35.60,86.25 35.85,86.27 36.10,86.29 36.35,86.31 36.60,86.33 36.85,86.35 37.10,86.37 37.35,86.39 37.60,86.41 37.85,86.43 38.10,86.45 38.35,86.47 38.60,86.49 38.85,86.51 39.10,86.53 39.35,86.55 39.60,86.57 39.85,86.59 40.10,86.61 40.35,86.63 40.60,86.65 40.85,86.67 41.10,86.70 41.35,86.72 41.60,86.74 41.85,86.76 42.10,86.78 42.35,86.80 42.60,86.82 42.85,86.85 43.10,86.87 43.35,86.89 43.60,86.91 43.85,86.93 44.10,86.95 44.35,86.98 44.60,87.00 44.85,87.02 45.10,87.04 45.35,87.06 45.60,87.08 45.85,87.11 46.10,87.13 46.35,87.15 46.60,87.17 46.85,87.19 47.10,87.21 47.35,87.23 47.60,87.26 47.85,87.28 48.10,87.30 48.35,87.32 48.60,87.34 48.85,87.36 49.10,87.38 49.35,87.41 49.60,87.43 49.85,87.45 50.10,87.47 50.35,87.49 50.60,87.51 50.85,87.53 51.10,87.56 51.35,87.58 51.60,87.60 51.85,87.62 52.10,87.64 52.35,87.66 52.60,87.68 52.85,87.70 53.10,87.73 53.35,87.75 53.60,87.77 53.85,87.79 54.10,87.81 54.35,87.83 54.60,87.85 54.85,87.87 55.10,87.89 55.35,87.92 55.60,87.94 55.85,87.96 56.10,87.98 56.35,88.00 56.60,88.02 56.85,88.04 57.10,88.06 57.35,88.08 57.60,88.10 57.85,88.12 58.10,88.14 58.35,88.17 58.60,88.19 58.85,88.21 59.10,88.23 59.35,88.25 59.60,88.27 59.85,88.29 60.10,88.31 60.35,88.33 60.60,88.36 60.85,88.38 61.10,88.40 61.35,88.42 61.60,88.45 61.85,88.47 62.10,88.49 62.35,88.52 62.60,88.54 62.85,88.56 63.10,88.58 63.35,88.60 63.60,88.63 63.85,88.65 64.10,88.67 64.35,88.69 64.60,88.71 64.85,88.73 65.10,88.76 65.35,88.78 65.60,88.80 65.85,88.82 66.10,88.84 66.35,88.86 66.60,88.88 66.85,88.90 67.10,88.92 67.35,88.93 67.60,88.95 67.85,88.97 68.10,88.99 68.35,89.00 68.60,89.02 68.85,89.04 69.10,89.05 69.35,89.07 69.60,89.08 69.85,89.09 70.10,89.10 70.35,89.09 70.60,89.07 70.85,89.06 71.10,89.05 71.35,89.03 71.60,89.01 71.85,88.99 72.10,88.97 72.35,88.95 72.60,88.92 72.85,88.89 73.10,88.85 73.35,88.81 73.60,88.77 73.85,88.71 74.10,88.65 74.35,88.58 74.60,88.50 74.85,88.41 75.10,88.30 75.35,88.17 75.60,88.01 75.85,87.83 76.10,87.59 76.35,87.30 76.60,86.91 76.85,86.38 77.10,85.61 77.35,84.47 77.60,82.79 77.85,80.34 78.10,76.94 78.35,72.51 78.60,67.17 78.85,61.44 79.10,56.48 79.35,53.98 79.60,55.09 79.85,59.28 80.10,64.89 80.35,70.48 80.60,75.32 80.85,79.13 81.10,81.94 81.35,83.91 81.60,85.25 81.85,86.15 82.10,86.77 82.35,87.21 82.60,87.54 82.85,87.79 83.10,88.00 83.35,88.17 83.60,88.31 83.85,88.43 84.10,88.53 84.35,88.62 84.60,88.70 84.85,88.76 85.10,88.81 85.35,88.86 85.60,88.90 85.85,88.94 86.10,88.97 86.35,88.99 86.60,89.01 86.85,89.02 87.10,89.03 87.35,89.04 87.60,89.04 87.85,89.04 88.10,89.03 88.35,89.02 88.60,88.99 88.85,88.96 89.10,88.92 89.35,88.87 89.60,88.80 89.85,88.70 90.10,88.57 90.35,88.37 90.60,88.09 90.85,87.69 91.10,87.11 91.35,86.32 91.60,85.29 91.85,84.03 92.10,82.58 92.35,81.11 92.60,79.90 92.85,79.32 93.10,79.59 93.35,80.61 93.60,82.03 93.85,83.53 94.10,84.89 94.35,86.03 94.60,86.93 94.85,87.61 95.10,88.09 95.35,88.44 95.60,88.68 95.85,88.86 96.10,88.99 96.35,89.08 96.60,89.16 96.85,89.23 97.10,89.29 97.35,89.33 97.60,89.38 97.85,89.41 98.10,89.44 98.35,89.47 98.60,89.50 98.85,89.52 99.10,89.54 99.35,89.56 99.60,89.58 99.85,89.60 100.10,89.61 100.35,89.63 100.60,89.64 100.85,89.65 101.10,89.66 101.35,89.68 101.60,89.69 101.85,89.70 102.10,89.71 102.35,89.72 102.60,89.72 102.85,89.73 103.10,89.74 103.35,89.75 103.60,89.76 103.85,89.76 104.10,89.77 104.35,89.78 104.60,89.78 104.85,89.79 105.10,89.80 105.35,89.80 105.60,89.81 105.85,89.82 106.10,89.82 106.35,89.83 106.60,89.83 106.85,89.84 107.10,89.84 107.35,89.85 107.60,89.85 107.85,89.86 108.10,89.86 108.35,89.87 108.60,89.87 108.85,89.88 109.10,89.88 109.35,89.89 109.60,89.89 109.85,89.90 110.10,89.90 110.35,89.90 110.60,89.90 110.85,89.91 111.10,89.91 111.35,89.91 111.60,89.91 111.85,89.91 112.10,89.91 112.35,89.92 112.60,89.92 112.85,89.92 113.10,89.92 113.35,89.92 113.60,89.92 113.85,89.92 114.10,89.92 114.35,89.92 114.60,89.93 114.85,89.93 115.10,89.93 115.35,89.93 115.60,89.93 115.85,89.93 116.10,89.93 116.35,89.93 116.60,89.93 116.85,89.93 117.10,89.93 117.35,89.93 117.60,89.93 117.85,89.93 118.10,89.93 118.35,89.94 118.60,89.94 118.85,89.94 119.10,89.94 119.35,89.94 119.60,89.94 119.85,89.93 120.10,89.93 120.35,89.93 120.60,89.93 120.85,89.93 121.10,89.93 121.35,89.93 121.60,89.93 121.85,89.93 122.10,89.93 122.35,89.93 122.60,89.93 122.85,89.92 123.10,89.92 123.35,89.92 123.60,89.92 123.85,89.92 124.10,89.91 124.35,89.91 124.60,89.91 124.85,89.90 125.10,89.90 125.35,89.89 125.60,89.89 125.85,89.88 126.10,89.88 126.35,89.87 126.60,89.87 126.85,89.86 127.10,89.85 127.35,89.84 127.60,89.83 127.85,89.82 128.10,89.81 128.35,89.79 128.60,89.78 128.85,89.76 129.10,89.74 129.35,89.72 129.60,89.70 129.85,89.67 130.10,89.64 130.35,89.61 130.60,89.57 130.85,89.53 131.10,89.47 131.35,89.41 131.60,89.34 131.85,89.26 132.10,89.16 132.35,89.04 132.60,88.89 132.85,88.69 133.10,88.43 133.35,88.06 133.60,87.54 133.85,86.79 134.10,85.73 134.35,84.30 134.60,82.44 134.85,80.15 135.10,77.54 135.35,74.89 135.60,72.70 135.85,71.63 136.10,72.10 136.35,73.92 136.60,76.47 136.85,79.14 137.10,81.58 137.35,83.62 137.60,85.22 137.85,86.42 138.10,87.29 138.35,87.89 138.60,88.32 138.85,88.62 139.10,88.84 139.35,89.01 139.60,89.15 139.85,89.25 140.10,89.35 140.35,89.42 140.60,89.49 140.85,89.54 141.10,89.59 141.35,89.64 141.60,89.67 141.85,89.71 142.10,89.74 142.35,89.76 142.60,89.79 142.85,89.81 143.10,89.83 143.35,89.84 143.60,89.86 143.85,89.87 144.10,89.89 144.35,89.90 144.60,89.91 144.85,89.92 145.10,89.93 145.35,89.94 145.60,89.94 145.85,89.95 146.10,89.96 146.35,89.96 146.60,89.97 146.85,89.97 147.10,89.98 147.35,89.98 147.60,89.98 147.85,89.99 148.10,89.99 148.35,89.99 148.60,89.99 148.85,90.00 149.10,90.00 149.35,90.00 149.60,90.00 149.85,90.00 150.10,90.00 150.35,90.00 150.60,90.00 150.85,90.00 151.10,90.00 151.35,90.00 151.60,89.99 151.85,89.99 152.10,89.99 152.35,89.98 152.60,89.98 152.85,89.98 153.10,89.97 153.35,89.96 153.60,89.96 153.85,89.95 154.10,89.94 154.35,89.93 154.60,89.92 154.85,89.91 155.10,89.89 155.35,89.88 155.60,89.86 155.85,89.84 156.10,89.81 156.35,89.79 156.60,89.76 156.85,89.72 157.10,89.68 157.35,89.64 157.60,89.59 157.85,89.52 158.10,89.45 158.35,89.36 158.60,89.25 158.85,89.11 159.10,88.93 159.35,88.68 159.60,88.34 159.85,87.86 160.10,87.21 160.35,86.34 160.60,85.21 160.85,83.80 161.10,82.12 161.35,80.27 161.60,78.41 161.85,76.85 162.10,75.98 162.35,76.08 162.60,77.12 162.85,78.76 163.10,80.64 163.35,82.47 163.60,84.09 163.85,85.44 164.10,86.52 164.35,87.34 164.60,87.94 164.85,88.38 165.10,88.69 165.35,88.92 165.60,89.08 165.85,89.20 166.10,89.29 166.35,89.36 166.60,89.40 166.85,89.43 167.10,89.43 167.35,89.41 167.60,89.36 167.85,89.29 168.10,89.18 168.35,89.04 168.60,88.86 168.85,88.65 169.10,88.42 169.35,88.19 169.60,87.98 169.85,87.84 170.10,87.80 170.35,87.87 170.60,88.04 170.85,88.27 171.10,88.53 171.35,88.79 171.60,89.04 171.85,89.25 172.10,89.43 172.35,89.58 172.60,89.70 172.85,89.79 173.10,89.87 173.35,89.92 173.60,89.97 173.85,90.00 174.10,90.03 174.35,90.05 174.60,90.07 174.85,90.09 175.10,90.11 175.35,90.12 175.60,90.13 175.85,90.14 176.10,90.15 176.35,90.16 176.60,90.17 176.85,90.18 177.10,90.19 177.35,90.19 177.60,90.20 177.85,90.21 178.10,90.21 178.35,90.22 178.60,90.22 178.85,90.23 179.10,90.23 179.35,90.24 179.60,90.24 179.85,90.24 180.10,90.25 180.35,90.25 180.60,90.26 180.85,90.26 181.10,90.26 181.35,90.27 181.60,90.27 181.85,90.27 182.10,90.27 182.35,90.28 182.60,90.28 182.85,90.28 183.10,90.28 183.35,90.29 183.60,90.29 183.85,90.29 184.10,90.29 184.35,90.29 184.60,90.30 184.85,90.30 185.10,90.30 185.35,90.30 185.60,90.30 185.85,90.30 186.10,90.30 186.35,90.30 186.60,90.31 186.85,90.31 187.10,90.31 187.35,90.31 187.60,90.31 187.85,90.31 188.10,90.31 188.35,90.31 188.60,90.31 188.85,90.31 189.10,90.31 189.35,90.31 189.60,90.31 189.85,90.31 190.10,90.31 190.35,90.31 190.60,90.31 190.85,90.30 191.10,90.30 191.35,90.30 191.60,90.30 191.85,90.30 192.10,90.30 192.35,90.30 192.60,90.29 192.85,90.29 193.10,90.29 193.35,90.28 193.60,90.28 193.85,90.28 194.10,90.27 194.35,90.27 194.60,90.26 194.85,90.25 195.10,90.25 195.35,90.24 195.60,90.23 195.85,90.22 196.10,90.20 196.35,90.18 196.60,90.16 196.85,90.13 197.10,90.10 197.35,90.05 197.60,90.00 197.85,89.93 198.10,89.85 198.35,89.75 198.60,89.63 198.85,89.49 199.10,89.34 199.35,89.16 199.60,88.98 199.85,88.79 200.10,88.61 200.35,88.46 200.60,88.35 200.85,88.30 201.10,88.32 201.35,88.41 201.60,88.55 201.85,88.72 202.10,88.91 202.35,89.09 202.60,89.27 202.85,89.44 203.10,89.58 203.35,89.71 203.60,89.82 203.85,89.91 204.10,89.98 204.35,90.04 204.60,90.09 204.85,90.13 205.10,90.16 205.35,90.18 205.60,90.20 205.85,90.22 206.10,90.23 206.35,90.24 206.60,90.25 206.85,90.26 207.10,90.27 207.35,90.27 207.60,90.28 207.85,90.28 208.10,90.29 208.35,90.29 208.60,90.29 208.85,90.30 209.10,90.30 209.35,90.30 209.60,90.30 209.85,90.30 210.10,90.30 210.35,90.30 210.60,90.30 210.85,90.30 211.10,90.30 211.35,90.30 211.60,90.30 211.85,90.30 212.10,90.30 212.35,90.30 212.60,90.29 212.85,90.29 213.10,90.29 213.35,90.28 213.60,90.28 213.85,90.27 214.10,90.27 214.35,90.26 214.60,90.25 214.85,90.24 215.10,90.24 215.35,90.23 215.60,90.22 215.85,90.20 216.10,90.19 216.35,90.18 216.60,90.16 216.85,90.14 217.10,90.12 217.35,90.10 217.60,90.07 217.85,90.04 218.10,90.01 218.35,89.96 218.60,89.91 218.85,89.84 219.10,89.76 219.35,89.65 219.60,89.51 219.85,89.35 220.10,89.13 220.35,88.87 220.60,88.56 220.85,88.19 221.10,87.77 221.35,87.30 221.60,86.80 221.85,86.29 222.10,85.81 222.35,85.42 222.60,85.17 222.85,85.10 223.10,85.23 223.35,85.54 223.60,85.96 223.85,86.44 224.10,86.94 224.35,87.41 224.60,87.85 224.85,88.23 225.10,88.55 225.35,88.82 225.60,89.03 225.85,89.19 226.10,89.30 226.35,89.37 226.60,89.40 226.85,89.40 227.10,89.35 227.35,89.28 227.60,89.16 227.85,89.01 228.10,88.81 228.35,88.59 228.60,88.33 228.85,88.06 229.10,87.78 229.35,87.53 229.60,87.33 229.85,87.21 230.10,87.21 230.35,87.33 230.60,87.53 230.85,87.80 231.10,88.10 231.35,88.40 231.60,88.68 231.85,88.95 232.10,89.18 232.35,89.37 232.60,89.54 232.85,89.68 233.10,89.79 233.35,89.87 233.60,89.94 233.85,90.00 234.10,90.04 234.35,90.08 234.60,90.11 234.85,90.13 235.10,90.15 235.35,90.17 235.60,90.19 235.85,90.20 236.10,90.21 236.35,90.22 236.60,90.23 236.85,90.24 237.10,90.25 237.35,90.25 237.60,90.26 237.85,90.27 238.10,90.27 238.35,90.28 238.60,90.28 238.85,90.28 239.10,90.29 239.35,90.29 239.60,90.29 239.85,90.30 240.10,90.30 240.35,90.30 240.60,90.30 240.85,90.30 241.10,90.30 241.35,90.30 241.60,90.31 241.85,90.31 242.10,90.31 242.35,90.31 242.60,90.31 242.85,90.31 243.10,90.31 243.35,90.31 243.60,90.31 243.85,90.31 244.10,90.30 244.35,90.30 244.60,90.30 244.85,90.30 245.10,90.30 245.35,90.31 245.60,90.32 245.85,90.33 246.10,90.33 246.35,90.34 246.60,90.35 246.85,90.35 247.10,90.36 247.35,90.36 247.60,90.37 247.85,90.37 248.10,90.38 248.35,90.38 248.60,90.38 248.85,90.39 249.10,90.39 249.35,90.39 249.60,90.39 249.85,90.39 250.10,90.39 250.35,90.39 250.60,90.38 250.85,90.38 251.10,90.37 251.35,90.36 251.60,90.35 251.85,90.34 252.10,90.32 252.35,90.30 252.60,90.27 252.85,90.24 253.10,90.20 253.35,90.15 253.60,90.08 253.85,89.99 254.10,89.89 254.35,89.75 254.60,89.58 254.85,89.38 255.10,89.14 255.35,88.85 255.60,88.52 255.85,88.14 256.10,87.72 256.35,87.28 256.60,86.82 256.85,86.37 257.10,85.96 257.35,85.64 257.60,85.44 257.85,85.41 258.10,85.53 258.35,85.80 258.60,86.18 258.85,86.62 259.10,87.10 259.35,87.58 259.60,88.03 259.85,88.45 260.10,88.83 260.35,89.16 260.60,89.45 260.85,89.70 261.10,89.91 261.35,90.08 261.60,90.22 261.85,90.34" fill="none" stroke="#cc72e8" stroke-width="1.4" stroke-linejoin="round"/>
<polyline points="299.60,108.40 299.85,108.40 300.10,108.40 300.35,108.41 300.60,108.41 300.85,108.41 301.10,108.41 301.35,108.41 301.60,108.41 301.85,108.42 302.10,108.42 302.35,108.42 302.60,108.42 302.85,108.42 303.10,108.42 303.35,108.43 303.60,108.43 303.85,108.43 304.10,108.43 304.35,108.43 304.60,108.44 304.85,108.44 305.10,108.44 305.35,108.44 305.60,108.44 305.85,108.44 306.10,108.44 306.35,108.45 306.60,108.45 306.85,108.45 307.10,108.45 307.35,108.45 307.60,108.45 307.85,108.46 308.10,108.46 308.35,108.46 308.60,108.46 308.85,108.46 309.10,108.46 309.35,108.46 309.60,108.47 309.85,108.47 310.10,108.47 310.35,108.47 310.60,108.47 310.85,108.47 311.10,108.47 311.35,108.48 311.60,108.48 311.85,108.48 312.10,108.48 312.35,108.48 312.60,108.48 312.85,108.48 313.10,108.48 313.35,108.49 313.60,108.49 313.85,108.49 314.10,108.49 314.35,108.49 314.60,108.49 314.85,108.49 315.10,108.49 315.35,108.50 315.60,108.50 315.85,108.50 316.10,108.50 316.35,108.50 316.60,108.50 316.85,108.50 317.10,108.50 317.35,108.51 317.60,108.51 317.85,108.51 318.10,108.51 318.35,108.51 318.60,108.51 318.85,108.51 319.10,108.51 319.35,108.51 319.60,108.52 319.85,108.52 320.10,108.52 320.35,108.52 320.60,108.52 320.85,108.52 321.10,108.52 321.35,108.52 321.60,108.52 321.85,108.52 322.10,108.53 322.35,108.53 322.60,108.53 322.85,108.53 323.10,108.53 323.35,108.53 323.60,108.53 323.85,108.53 324.10,108.53 324.35,108.53 324.60,108.53 324.85,108.54 325.10,108.54 325.35,108.54 325.60,108.54 325.85,108.54 326.10,108.54 326.35,108.54 326.60,108.54 326.85,108.54 327.10,108.54 327.35,108.54 327.60,108.54 327.85,108.55 328.10,108.55 328.35,108.55 328.60,108.55 328.85,108.55 329.10,108.55 329.35,108.55 329.60,108.55 329.85,108.55 330.10,108.55 330.35,108.55 330.60,108.55 330.85,108.55 331.10,108.55 331.35,108.56 331.60,108.56 331.85,108.56 332.10,108.56 332.35,108.56 332.60,108.56 332.85,108.56 333.10,108.56 333.35,108.56 333.60,108.56 333.85,108.56 334.10,108.56 334.35,108.56 334.60,108.56 334.85,108.56 335.10,108.57 335.35,108.57 335.60,108.57 335.85,108.57 336.10,108.57 336.35,108.57 336.60,108.57 336.85,108.57 337.10,108.57 337.35,108.57 337.60,108.57 337.85,108.57 338.10,108.57 338.35,108.57 338.60,108.57 338.85,108.57 339.10,108.57 339.35,108.57 339.60,108.57 339.85,108.58 340.10,108.58 340.35,108.58 340.60,108.58 340.85,108.58 341.10,108.58 341.35,108.58 341.60,108.58 341.85,108.58 342.10,108.58 342.35,108.58 342.60,108.58 342.85,108.58 343.10,108.58 343.35,108.58 343.60,108.58 343.85,108.58 344.10,108.58 344.35,108.58 344.60,108.58 344.85,108.58 345.10,108.58 345.35,108.58 345.60,108.58 345.85,108.58 346.10,108.58 346.35,108.59 346.60,108.59 346.85,108.59 347.10,108.59 347.35,108.59 347.60,108.59 347.85,108.59 348.10,108.59 348.35,108.59 348.60,108.59 348.85,108.59 349.10,108.59 349.35,108.59 349.60,108.59 349.85,108.59 350.10,108.59 350.35,108.59 350.60,108.59 350.85,108.59 351.10,108.59 351.35,108.59 351.60,108.59 351.85,108.59 352.10,108.59 352.35,108.59 352.60,108.59 352.85,108.59 353.10,108.59 353.35,108.59 353.60,108.59 353.85,108.59 354.10,108.59 354.35,108.59 354.60,108.59 354.85,108.59 355.10,108.59 355.35,108.59 355.60,108.59 355.85,108.59 356.10,108.59 356.35,108.59 356.60,108.60 356.85,108.60 357.10,108.60 357.35,108.60 357.60,108.60 357.85,108.60 358.10,108.60 358.35,108.60 358.60,108.60 358.85,108.60 359.10,108.60 359.35,108.60 359.60,108.60 359.85,108.60 360.10,108.60 360.35,108.60 360.60,108.60 360.85,108.60 361.10,108.60 361.35,108.60 361.60,108.60 361.85,108.60 362.10,108.60 362.35,108.60 362.60,108.60 362.85,108.60 363.10,108.60 363.35,108.60 363.60,108.60 363.85,108.60 364.10,108.60 364.35,108.60 364.60,108.60 364.85,108.60 365.10,108.60 365.35,108.60 365.60,108.60 365.85,108.60 366.10,108.60 366.35,108.60 366.60,108.60 366.85,108.60 367.10,108.60 367.35,108.60 367.60,108.60 367.85,108.60 368.10,108.60 368.35,108.60 368.60,108.60 368.85,108.60 369.10,108.60 369.35,108.60 369.60,108.60 369.85,108.60 370.10,108.60 370.35,108.60 370.60,108.60 370.85,108.60 371.10,108.60 371.35,108.60 371.60,108.60 371.85,108.60 372.10,108.60 372.35,108.60 372.60,108.60 372.85,108.60 373.10,108.60 373.35,108.60 373.60,108.60 373.85,108.60 374.10,108.60 374.35,108.60 374.60,108.60 374.85,108.60 375.10,108.60 375.35,108.60 375.60,108.60 375.85,108.60 376.10,108.60 376.35,108.60 376.60,108.60 376.85,108.60 377.10,108.60 377.35,108.60 377.60,108.60 377.85,108.60 378.10,108.60 378.35,108.60 378.60,108.60 378.85,108.60 379.10,108.60 379.35,108.60 379.60,108.60 379.85,108.60 380.10,108.60 380.35,108.60 380.60,108.60 380.85,108.59 381.10,108.59 381.35,108.59 381.60,108.58 381.85,108.58 382.10,108.57 382.35,108.57 382.60,108.56 382.85,108.55 383.10,108.55 383.35,108.54 383.60,108.53 383.85,108.52 384.10,108.51 384.35,108.50 384.60,108.49 384.85,108.48 385.10,108.47 385.35,108.45 385.60,108.44 385.85,108.43 386.10,108.42 386.35,108.40 386.60,108.39 386.85,108.37 387.10,108.36 387.35,108.35 387.60,108.33 387.85,108.32 388.10,108.30 388.35,108.28 388.60,108.27 388.85,108.25 389.10,108.24 389.35,108.22 389.60,108.20 389.85,108.19 390.10,108.17 390.35,108.15 390.60,108.13 390.85,108.12 391.10,108.10 391.35,108.08 391.60,108.06 391.85,108.05 392.10,108.03 392.35,108.01 392.60,108.00 392.85,107.98 393.10,107.96 393.35,107.94 393.60,107.93 393.85,107.91 394.10,107.89 394.35,107.88 394.60,107.86 394.85,107.84 395.10,107.82 395.35,107.80 395.60,107.78 395.85,107.76 396.10,107.74 396.35,107.72 396.60,107.70 396.85,107.68 397.10,107.66 397.35,107.64 397.60,107.62 397.85,107.59 398.10,107.57 398.35,107.55 398.60,107.53 398.85,107.50 399.10,107.48 399.35,107.45 399.60,107.43 399.85,107.40 400.10,107.38 400.35,107.35 400.60,107.33 400.85,107.30 401.10,107.28 401.35,107.25 401.60,107.22 401.85,107.20 402.10,107.17 402.35,107.14 402.60,107.12 402.85,107.09 403.10,107.06 403.35,107.03 403.60,107.00 403.85,106.98 404.10,106.95 404.35,106.92 404.60,106.89 404.85,106.86 405.10,106.83 405.35,106.80 405.60,106.77 405.85,106.74 406.10,106.71 406.35,106.69 406.60,106.66 406.85,106.63 407.10,106.60 407.35,106.57 407.60,106.54 407.85,106.51 408.10,106.48 408.35,106.45 408.60,106.42 408.85,106.39 409.10,106.36 409.35,106.33 409.60,106.29 409.85,106.26 410.10,106.23 410.35,106.20 410.60,106.17 410.85,106.14 411.10,106.11 411.35,106.08 411.60,106.05 411.85,106.02 412.10,105.99 412.35,105.95 412.60,105.92 412.85,105.89 413.10,105.86 413.35,105.82 413.60,105.79 413.85,105.76 414.10,105.72 414.35,105.69 414.60,105.65 414.85,105.62 415.10,105.58 415.35,105.55 415.60,105.51 415.85,105.47 416.10,105.43 416.35,105.40 416.60,105.36 416.85,105.32 417.10,105.28 417.35,105.24 417.60,105.20 417.85,105.16 418.10,105.12 418.35,105.07 418.60,105.03 418.85,104.99 419.10,104.94 419.35,104.90 419.60,104.85 419.85,104.81 420.10,104.76 420.35,104.71 420.60,104.66 420.85,104.61 421.10,104.56 421.35,104.51 421.60,104.46 421.85,104.41 422.10,104.35 422.35,104.30 422.60,104.24 422.85,104.18 423.10,104.12 423.35,104.05 423.60,103.99 423.85,103.92 424.10,103.85 424.35,103.78 424.60,103.71 424.85,103.63 425.10,103.55 425.35,103.47 425.60,103.39 425.85,103.31 426.10,103.23 426.35,103.14 426.60,103.05 426.85,102.96 427.10,102.87 427.35,102.78 427.60,102.68 427.85,102.58 428.10,102.48 428.35,102.38 428.60,102.27 428.85,102.17 429.10,102.05 429.35,101.94 429.60,101.81 429.85,101.68 430.10,101.55 430.35,101.41 430.60,101.27 430.85,101.12 431.10,100.97 431.35,100.82 431.60,100.66 431.85,100.50 432.10,100.34 432.35,100.18 432.60,100.02 432.85,99.85 433.10,99.69 433.35,99.53 433.60,99.36 433.85,99.20 434.10,99.04 434.35,98.88 434.60,98.72 434.85,98.56 435.10,98.39 435.35,98.23 435.60,98.07 435.85,97.90 436.10,97.73 436.35,97.56 436.60,97.38 436.85,97.20 437.10,97.01 437.35,96.81 437.60,96.61 437.85,96.40 438.10,96.19 438.35,95.96 438.60,95.73 438.85,95.48 439.10,95.23 439.35,94.97 439.60,94.70 439.85,94.42 440.10,94.14 440.35,93.85 440.60,93.55 440.85,93.25 441.10,92.94 441.35,92.62 441.60,92.30 441.85,91.98 442.10,91.64 442.35,91.30 442.60,90.95 442.85,90.59 443.10,90.21 443.35,89.84 443.60,89.45 443.85,89.05 444.10,88.65 444.35,88.25 444.60,87.84 444.85,87.42 445.10,87.01 445.35,86.59 445.60,86.17 445.85,85.75 446.10,85.33 446.35,84.90 446.60,84.48 446.85,84.04 447.10,83.61 447.35,83.17 447.60,82.73 447.85,82.29 448.10,81.83 448.35,81.38 448.60,80.92 448.85,80.46 449.10,79.99 449.35,79.52 449.60,79.05 449.85,78.57 450.10,78.08 450.35,77.59 450.60,77.08 450.85,76.56 451.10,76.03 451.35,75.47 451.60,74.89 451.85,74.28 452.10,73.65 452.35,73.00 452.60,72.34 452.85,71.66 453.10,70.98 453.35,70.30 453.60,69.62 453.85,68.94 454.10,68.27 454.35,67.60 454.60,66.94 454.85,66.28 455.10,65.64 455.35,65.01 455.60,64.41 455.85,63.84 456.10,63.30 456.35,62.79 456.60,62.31 456.85,61.87 457.10,61.46 457.35,61.09 457.60,60.76 457.85,60.47 458.10,60.23 458.35,60.02 458.60,59.86 458.85,59.73 459.10,59.64 459.35,59.61 459.60,59.65 459.85,59.76 460.10,59.95 460.35,60.23 460.60,60.59 460.85,61.04 461.10,61.57 461.35,62.19 461.60,62.92 461.85,63.77 462.10,64.74 462.35,65.84 462.60,67.06 462.85,68.40 463.10,69.84 463.35,71.35 463.60,72.90 463.85,74.46 464.10,75.99 464.35,77.49 464.60,78.95 464.85,80.39 465.10,81.84 465.35,83.29 465.60,84.76 465.85,86.23 466.10,87.69 466.35,89.12 466.60,90.51 466.85,91.85 467.10,93.15 467.35,94.39 467.60,95.59 467.85,96.74 468.10,97.84 468.35,98.90 468.60,99.91 468.85,100.87 469.10,101.78 469.35,102.63 469.60,103.43 469.85,104.14 470.10,104.77 470.35,105.31 470.60,105.78 470.85,106.17 471.10,106.51 471.35,106.81 471.60,107.07 471.85,107.29 472.10,107.49 472.35,107.65 472.60,107.79 472.85,107.91 473.10,108.01 473.35,108.10 473.60,108.18 473.85,108.26 474.10,108.32 474.35,108.38 474.60,108.44 474.85,108.49 475.10,108.53 475.35,108.57 475.60,108.61 475.85,108.64 476.10,108.67 476.35,108.70 476.60,108.72 476.85,108.74 477.10,108.76 477.35,108.78 477.60,108.80 477.85,108.82 478.10,108.83 478.35,108.85 478.60,108.86 478.85,108.87 479.10,108.88 479.35,108.88 479.60,108.89 479.85,108.89 480.10,108.90 480.35,108.90 480.60,108.90 480.85,108.90 481.10,108.90 481.35,108.91 481.60,108.91 481.85,108.91 482.10,108.91 482.35,108.91 482.60,108.91 482.85,108.91 483.10,108.91 483.35,108.91 483.60,108.92 483.85,108.92 484.10,108.92 484.35,108.92 484.60,108.92 484.85,108.92 485.10,108.92 485.35,108.92 485.60,108.92 485.85,108.92 486.10,108.93 486.35,108.93 486.60,108.93 486.85,108.93 487.10,108.93 487.35,108.93 487.60,108.93 487.85,108.93 488.10,108.93 488.35,108.93 488.60,108.93 488.85,108.94 489.10,108.94 489.35,108.94 489.60,108.94 489.85,108.94 490.10,108.94 490.35,108.94 490.60,108.94 490.85,108.94 491.10,108.94 491.35,108.94 491.60,108.94 491.85,108.95 492.10,108.95 492.35,108.95 492.60,108.95 492.85,108.95 493.10,108.95 493.35,108.95 493.60,108.95 493.85,108.95 494.10,108.95 494.35,108.95 494.60,108.95 494.85,108.95 495.10,108.95 495.35,108.96 495.60,108.96 495.85,108.96 496.10,108.96 496.35,108.96 496.60,108.96 496.85,108.96 497.10,108.96 497.35,108.96 497.60,108.96 497.85,108.96 498.10,108.96 498.35,108.96 498.60,108.96 498.85,108.96 499.10,108.96 499.35,108.97 499.60,108.97 499.85,108.97 500.10,108.97 500.35,108.97 500.60,108.97 500.85,108.97 501.10,108.97 501.35,108.97 501.60,108.97 501.85,108.97 502.10,108.97 502.35,108.97 502.60,108.97 502.85,108.97 503.10,108.97 503.35,108.97 503.60,108.97 503.85,108.97 504.10,108.98 504.35,108.98 504.60,108.98 504.85,108.98 505.10,108.98 505.35,108.98 505.60,108.98 505.85,108.98 506.10,108.98 506.35,108.98 506.60,108.98 506.85,108.98 507.10,108.98 507.35,108.98 507.60,108.98 507.85,108.98 508.10,108.98 508.35,108.98 508.60,108.98 508.85,108.98 509.10,108.98 509.35,108.98 509.60,108.98 509.85,108.98 510.10,108.98 510.35,108.99 510.60,108.99 510.85,108.99 511.10,108.99 511.35,108.99 511.60,108.99 511.85,108.99 512.10,108.99 512.35,108.99 512.60,108.99 512.85,108.99 513.10,108.99 513.35,108.99 513.60,108.99 513.85,108.99 514.10,108.99 514.35,108.99 514.60,108.99 514.85,108.99 515.10,108.99 515.35,108.99 515.60,108.99 515.85,108.99 516.10,108.99 516.35,108.99 516.60,108.99 516.85,108.99 517.10,108.99 517.35,108.99 517.60,108.99 517.85,108.99 518.10,108.99 518.35,108.99 518.60,108.99 518.85,108.99 519.10,108.99 519.35,108.99 519.60,108.99 519.85,108.99 520.10,108.99 520.35,108.99 520.60,109.00 520.85,109.00 521.10,109.00 521.35,109.00 521.60,109.00 521.85,109.00 522.10,109.00 522.35,109.00 522.60,109.00 522.85,109.00 523.10,109.00 523.35,109.00 523.60,109.00 523.85,109.00 524.10,109.00 524.35,109.00 524.60,109.00 524.85,109.00 525.10,109.00 525.35,109.00 525.60,109.00 525.85,109.00 526.10,109.00 526.35,109.00 526.60,109.00 526.85,109.00 527.10,109.00 527.35,109.00 527.60,109.00 527.85,109.00 528.10,109.00 528.35,109.00 528.60,109.00 528.85,109.00 529.10,109.00 529.35,109.00 529.60,109.00 529.85,109.00 530.10,109.00 530.35,109.00 530.60,109.00 530.85,109.00 531.10,109.00 531.35,109.00 531.60,109.00 531.85,109.00 532.10,109.00 532.35,109.00 532.60,109.00 532.85,109.00 533.10,109.00 533.35,109.00 533.60,109.00 533.85,109.00 534.10,109.00 534.35,109.00 534.60,109.00 534.85,109.00 535.10,109.00 535.35,109.00 535.60,109.00 535.85,109.00 536.10,109.00 536.35,109.00 536.60,109.00 536.85,109.00 537.10,109.00 537.35,109.00 537.60,109.00 537.85,109.00 538.10,109.00" fill="none" stroke="#cc72e8" stroke-width="1.4" stroke-linejoin="round"/>
<polyline points="23.60,127.50 23.85,127.51 24.10,127.52 24.35,127.53 24.60,127.54 24.85,127.55 25.10,127.56 25.35,127.57 25.60,127.59 25.85,127.60 26.10,127.61 26.35,127.62 26.60,127.63 26.85,127.64 27.10,127.65 27.35,127.66 27.60,127.67 27.85,127.68 28.10,127.69 28.35,127.70 28.60,127.71 28.85,127.72 29.10,127.73 29.35,127.74 29.60,127.76 29.85,127.77 30.10,127.78 30.35,127.79 30.60,127.80 30.85,127.81 31.10,127.82 31.35,127.83 31.60,127.84 31.85,127.85 32.10,127.86 32.35,127.87 32.60,127.88 32.85,127.89 33.10,127.90 33.35,127.91 33.60,127.92 33.85,127.94 34.10,127.95 34.35,127.96 34.60,127.97 34.85,127.98 35.10,127.99 35.35,128.00 35.60,128.01 35.85,128.02 36.10,128.03 36.35,128.04 36.60,128.05 36.85,128.06 37.10,128.07 37.35,128.08 37.60,128.09 37.85,128.10 38.10,128.12 38.35,128.13 38.60,128.14 38.85,128.15 39.10,128.16 39.35,128.17 39.60,128.18 39.85,128.19 40.10,128.20 40.35,128.21 40.60,128.22 40.85,128.23 41.10,128.24 41.35,128.25 41.60,128.26 41.85,128.27 42.10,128.28 42.35,128.29 42.60,128.30 42.85,128.31 43.10,128.32 43.35,128.34 43.60,128.35 43.85,128.36 44.10,128.37 44.35,128.38 44.60,128.39 44.85,128.40 45.10,128.41 45.35,128.42 45.60,128.43 45.85,128.44 46.10,128.45 46.35,128.46 46.60,128.47 46.85,128.48 47.10,128.49 47.35,128.50 47.60,128.51 47.85,128.52 48.10,128.53 48.35,128.54 48.60,128.55 48.85,128.56 49.10,128.57 49.35,128.58 49.60,128.59 49.85,128.60 50.10,128.61 50.35,128.62 50.60,128.63 50.85,128.64 51.10,128.65 51.35,128.67 51.60,128.68 51.85,128.69 52.10,128.70 52.35,128.71 52.60,128.72 52.85,128.73 53.10,128.74 53.35,128.75 53.60,128.76 53.85,128.77 54.10,128.78 54.35,128.79 54.60,128.80 54.85,128.80 55.10,128.81 55.35,128.82 55.60,128.83 55.85,128.84 56.10,128.85 56.35,128.86 56.60,128.87 56.85,128.88 57.10,128.89 57.35,128.90 57.60,128.91 57.85,128.92 58.10,128.93 58.35,128.94 58.60,128.95 58.85,128.96 59.10,128.97 59.35,128.98 59.60,128.99 59.85,128.99 60.10,129.01 60.35,129.02 60.60,129.03 60.85,129.05 61.10,129.06 61.35,129.07 61.60,129.09 61.85,129.10 62.10,129.11 62.35,129.12 62.60,129.14 62.85,129.15 63.10,129.16 63.35,129.17 63.60,129.19 63.85,129.20 64.10,129.21 64.35,129.22 64.60,129.23 64.85,129.25 65.10,129.26 65.35,129.27 65.60,129.28 65.85,129.29 66.10,129.30 66.35,129.31 66.60,129.32 66.85,129.33 67.10,129.34 67.35,129.35 67.60,129.35 67.85,129.36 68.10,129.37 68.35,129.37 68.60,129.38 68.85,129.39 69.10,129.39 69.35,129.39 69.60,129.40 69.85,129.40 70.10,129.40 70.35,129.39 70.60,129.38 70.85,129.37 71.10,129.35 71.35,129.34 71.60,129.32 71.85,129.30 72.10,129.28 72.35,129.25 72.60,129.23 72.85,129.19 73.10,129.16 73.35,129.11 73.60,129.07 73.85,129.01 74.10,128.95 74.35,128.87 74.60,128.78 74.85,128.68 75.10,128.56 75.35,128.42 75.60,128.25 75.85,128.04 76.10,127.79 76.35,127.47 76.60,127.04 76.85,126.45 77.10,125.60 77.35,124.34 77.60,122.47 77.85,119.75 78.10,115.98 78.35,111.06 78.60,105.13 78.85,98.77 79.10,93.26 79.35,90.48 79.60,91.73 79.85,96.39 80.10,102.61 80.35,108.83 80.60,114.20 80.85,118.44 81.10,121.56 81.35,123.76 81.60,125.24 81.85,126.25 82.10,126.94 82.35,127.43 82.60,127.80 82.85,128.09 83.10,128.32 83.35,128.51 83.60,128.67 83.85,128.81 84.10,128.92 84.35,129.02 84.60,129.11 84.85,129.18 85.10,129.25 85.35,129.30 85.60,129.35 85.85,129.39 86.10,129.43 86.35,129.46 86.60,129.48 86.85,129.50 87.10,129.52 87.35,129.53 87.60,129.54 87.85,129.54 88.10,129.53 88.35,129.52 88.60,129.50 88.85,129.48 89.10,129.44 89.35,129.39 89.60,129.32 89.85,129.22 90.10,129.09 90.35,128.89 90.60,128.61 90.85,128.19 91.10,127.60 91.35,126.80 91.60,125.74 91.85,124.45 92.10,122.96 92.35,121.46 92.60,120.22 92.85,119.62 93.10,119.90 93.35,120.95 93.60,122.42 93.85,123.96 94.10,125.36 94.35,126.54 94.60,127.47 94.85,128.16 95.10,128.67 95.35,129.02 95.60,129.28 95.85,129.46 96.10,129.60 96.35,129.70 96.60,129.79 96.85,129.86 97.10,129.92 97.35,129.97 97.60,130.02 97.85,130.06 98.10,130.09 98.35,130.12 98.60,130.15 98.85,130.18 99.10,130.21 99.35,130.23 99.60,130.25 99.85,130.27 100.10,130.29 100.35,130.31 100.60,130.32 100.85,130.34 101.10,130.35 101.35,130.37 101.60,130.38 101.85,130.40 102.10,130.41 102.35,130.42 102.60,130.43 102.85,130.44 103.10,130.46 103.35,130.47 103.60,130.48 103.85,130.49 104.10,130.50 104.35,130.51 104.60,130.52 104.85,130.53 105.10,130.54 105.35,130.55 105.60,130.56 105.85,130.56 106.10,130.57 106.35,130.58 106.60,130.59 106.85,130.60 107.10,130.61 107.35,130.62 107.60,130.62 107.85,130.63 108.10,130.64 108.35,130.65 108.60,130.66 108.85,130.66 109.10,130.67 109.35,130.68 109.60,130.69 109.85,130.70 110.10,130.70 110.35,130.71 110.60,130.71 110.85,130.71 111.10,130.72 111.35,130.72 111.60,130.72 111.85,130.73 112.10,130.73 112.35,130.73 112.60,130.73 112.85,130.74 113.10,130.74 113.35,130.74 113.60,130.75 113.85,130.75 114.10,130.75 114.35,130.76 114.60,130.76 114.85,130.76 115.10,130.76 115.35,130.77 115.60,130.77 115.85,130.77 116.10,130.77 116.35,130.78 116.60,130.78 116.85,130.78 117.10,130.78 117.35,130.78 117.60,130.79 117.85,130.79 118.10,130.79 118.35,130.79 118.60,130.79 118.85,130.80 119.10,130.80 119.35,130.80 119.60,130.80 119.85,130.80 120.10,130.80 120.35,130.81 120.60,130.81 120.85,130.81 121.10,130.81 121.35,130.81 121.60,130.81 121.85,130.81 122.10,130.81 122.35,130.81 122.60,130.81 122.85,130.81 123.10,130.81 123.35,130.81 123.60,130.81 123.85,130.81 124.10,130.81 124.35,130.81 124.60,130.80 124.85,130.80 125.10,130.80 125.35,130.80 125.60,130.79 125.85,130.79 126.10,130.78 126.35,130.78 126.60,130.77 126.85,130.76 127.10,130.75 127.35,130.75 127.60,130.74 127.85,130.73 128.10,130.71 128.35,130.70 128.60,130.68 128.85,130.67 129.10,130.65 129.35,130.63 129.60,130.60 129.85,130.58 130.10,130.54 130.35,130.51 130.60,130.47 130.85,130.42 131.10,130.37 131.35,130.30 131.60,130.23 131.85,130.14 132.10,130.04 132.35,129.91 132.60,129.75 132.85,129.54 133.10,129.26 133.35,128.87 133.60,128.31 133.85,127.51 134.10,126.39 134.35,124.86 134.60,122.87 134.85,120.42 135.10,117.64 135.35,114.81 135.60,112.47 135.85,111.33 136.10,111.84 136.35,113.78 136.60,116.50 136.85,119.35 137.10,121.96 137.35,124.14 137.60,125.85 137.85,127.13 138.10,128.06 138.35,128.71 138.60,129.16 138.85,129.49 139.10,129.72 139.35,129.90 139.60,130.05 139.85,130.17 140.10,130.26 140.35,130.35 140.60,130.42 140.85,130.48 141.10,130.53 141.35,130.58 141.60,130.62 141.85,130.65 142.10,130.69 142.35,130.72 142.60,130.74 142.85,130.77 143.10,130.79 143.35,130.81 143.60,130.82 143.85,130.84 144.10,130.85 144.35,130.87 144.60,130.88 144.85,130.89 145.10,130.90 145.35,130.91 145.60,130.92 145.85,130.93 146.10,130.94 146.35,130.94 146.60,130.95 146.85,130.96 147.10,130.96 147.35,130.97 147.60,130.97 147.85,130.98 148.10,130.98 148.35,130.98 148.60,130.99 148.85,130.99 149.10,130.99 149.35,131.00 149.60,131.00 149.85,131.00 150.10,131.00 150.35,131.00 150.60,131.00 150.85,131.00 151.10,130.99 151.35,130.99 151.60,130.99 151.85,130.99 152.10,130.98 152.35,130.98 152.60,130.97 152.85,130.97 153.10,130.96 153.35,130.95 153.60,130.95 153.85,130.94 154.10,130.93 154.35,130.92 154.60,130.90 154.85,130.89 155.10,130.87 155.35,130.86 155.60,130.84 155.85,130.82 156.10,130.79 156.35,130.76 156.60,130.73 156.85,130.70 157.10,130.66 157.35,130.61 157.60,130.56 157.85,130.49 158.10,130.42 158.35,130.32 158.60,130.21 158.85,130.07 159.10,129.88 159.35,129.63 159.60,129.28 159.85,128.79 160.10,128.13 160.35,127.24 160.60,126.09 160.85,124.65 161.10,122.94 161.35,121.05 161.60,119.16 161.85,117.57 162.10,116.68 162.35,116.79 162.60,117.84 162.85,119.51 163.10,121.42 163.35,123.28 163.60,124.93 163.85,126.31 164.10,127.41 164.35,128.24 164.60,128.86 164.85,129.30 165.10,129.62 165.35,129.84 165.60,130.01 165.85,130.13 166.10,130.22 166.35,130.28 166.60,130.32 166.85,130.34 167.10,130.34 167.35,130.32 167.60,130.26 167.85,130.17 168.10,130.05 168.35,129.89 168.60,129.69 168.85,129.45 169.10,129.19 169.35,128.94 169.60,128.71 169.85,128.55 170.10,128.50 170.35,128.58 170.60,128.76 170.85,129.02 171.10,129.31 171.35,129.59 171.60,129.86 171.85,130.09 172.10,130.29 172.35,130.45 172.60,130.59 172.85,130.69 173.10,130.77 173.35,130.83 173.60,130.88 173.85,130.92 174.10,130.95 174.35,130.97 174.60,130.99 174.85,131.01 175.10,131.03 175.35,131.04 175.60,131.05 175.85,131.06 176.10,131.07 176.35,131.08 176.60,131.09 176.85,131.10 177.10,131.11 177.35,131.11 177.60,131.12 177.85,131.12 178.10,131.13 178.35,131.13 178.60,131.14 178.85,131.14 179.10,131.15 179.35,131.15 179.60,131.15 179.85,131.16 180.10,131.16 180.35,131.16 180.60,131.17 180.85,131.17 181.10,131.17 181.35,131.18 181.60,131.18 181.85,131.18 182.10,131.18 182.35,131.18 182.60,131.19 182.85,131.19 183.10,131.19 183.35,131.19 183.60,131.19 183.85,131.19 184.10,131.20 184.35,131.20 184.60,131.20 184.85,131.20 185.10,131.20 185.35,131.20 185.60,131.20 185.85,131.20 186.10,131.20 186.35,131.20 186.60,131.20 186.85,131.21 187.10,131.21 187.35,131.21 187.60,131.21 187.85,131.21 188.10,131.21 188.35,131.21 188.60,131.21 188.85,131.21 189.10,131.21 189.35,131.21 189.60,131.21 189.85,131.20 190.10,131.20 190.35,131.20 190.60,131.20 190.85,131.20 191.10,131.20 191.35,131.20 191.60,131.20 191.85,131.19 192.10,131.19 192.35,131.19 192.60,131.19 192.85,131.18 193.10,131.18 193.35,131.18 193.60,131.17 193.85,131.17 194.10,131.16 194.35,131.16 194.60,131.15 194.85,131.14 195.10,131.13 195.35,131.12 195.60,131.11 195.85,131.10 196.10,131.08 196.35,131.06 196.60,131.03 196.85,131.00 197.10,130.96 197.35,130.91 197.60,130.85 197.85,130.77 198.10,130.68 198.35,130.56 198.60,130.43 198.85,130.27 199.10,130.09 199.35,129.89 199.60,129.68 199.85,129.46 200.10,129.26 200.35,129.08 200.60,128.96 200.85,128.90 201.10,128.93 201.35,129.03 201.60,129.18 201.85,129.38 202.10,129.59 202.35,129.81 202.60,130.01 202.85,130.20 203.10,130.37 203.35,130.51 203.60,130.64 203.85,130.74 204.10,130.83 204.35,130.89 204.60,130.95 204.85,130.99 205.10,131.03 205.35,131.06 205.60,131.08 205.85,131.10 206.10,131.11 206.35,131.13 206.60,131.14 206.85,131.15 207.10,131.16 207.35,131.16 207.60,131.17 207.85,131.17 208.10,131.18 208.35,131.18 208.60,131.19 208.85,131.19 209.10,131.19 209.35,131.20 209.60,131.20 209.85,131.20 210.10,131.20 210.35,131.20 210.60,131.20 210.85,131.20 211.10,131.20 211.35,131.20 211.60,131.20 211.85,131.20 212.10,131.20 212.35,131.20 212.60,131.19 212.85,131.19 213.10,131.19 213.35,131.18 213.60,131.18 213.85,131.17 214.10,131.17 214.35,131.16 214.60,131.16 214.85,131.15 215.10,131.14 215.35,131.13 215.60,131.12 215.85,131.11 216.10,131.10 216.35,131.09 216.60,131.07 216.85,131.06 217.10,131.04 217.35,131.02 217.60,131.00 217.85,130.97 218.10,130.93 218.35,130.89 218.60,130.85 218.85,130.78 219.10,130.71 219.35,130.61 219.60,130.49 219.85,130.34 220.10,130.15 220.35,129.91 220.60,129.63 220.85,129.30 221.10,128.92 221.35,128.49 221.60,128.04 221.85,127.58 222.10,127.15 222.35,126.79 222.60,126.56 222.85,126.50 223.10,126.62 223.35,126.89 223.60,127.27 223.85,127.71 224.10,128.15 224.35,128.58 224.60,128.97 224.85,129.32 225.10,129.61 225.35,129.84 225.60,130.03 225.85,130.17 226.10,130.27 226.35,130.33 226.60,130.35 226.85,130.34 227.10,130.29 227.35,130.20 227.60,130.08 227.85,129.93 228.10,129.73 228.35,129.50 228.60,129.24 228.85,128.97 229.10,128.69 229.35,128.43 229.60,128.23 229.85,128.12 230.10,128.11 230.35,128.22 230.60,128.43 230.85,128.70 231.10,129.00 231.35,129.30 231.60,129.58 231.85,129.84 232.10,130.07 232.35,130.27 232.60,130.44 232.85,130.57 233.10,130.68 233.35,130.77 233.60,130.84 233.85,130.90 234.10,130.94 234.35,130.98 234.60,131.01 234.85,131.03 235.10,131.05 235.35,131.07 235.60,131.08 235.85,131.10 236.10,131.11 236.35,131.12 236.60,131.13 236.85,131.14 237.10,131.14 237.35,131.15 237.60,131.16 237.85,131.16 238.10,131.17 238.35,131.17 238.60,131.18 238.85,131.18 239.10,131.18 239.35,131.19 239.60,131.19 239.85,131.19 240.10,131.19 240.35,131.20 240.60,131.20 240.85,131.20 241.10,131.20 241.35,131.20 241.60,131.20 241.85,131.20 242.10,131.20 242.35,131.20 242.60,131.20 242.85,131.20 243.10,131.20 243.35,131.20 243.60,131.20 243.85,131.20 244.10,131.20 244.35,131.20 244.60,131.20 244.85,131.20 245.10,131.20 245.35,131.21 245.60,131.22 245.85,131.22 246.10,131.23 246.35,131.23 246.60,131.24 246.85,131.24 247.10,131.25 247.35,131.25 247.60,131.26 247.85,131.26 248.10,131.27 248.35,131.27 248.60,131.27 248.85,131.27 249.10,131.28 249.35,131.28 249.60,131.28 249.85,131.28 250.10,131.28 250.35,131.28 250.60,131.27 250.85,131.27 251.10,131.27 251.35,131.26 251.60,131.25 251.85,131.24 252.10,131.23 252.35,131.21 252.60,131.19 252.85,131.16 253.10,131.13 253.35,131.09 253.60,131.03 253.85,130.97 254.10,130.88 254.35,130.77 254.60,130.64 254.85,130.48 255.10,130.28 255.35,130.05 255.60,129.79 255.85,129.49 256.10,129.15 256.35,128.80 256.60,128.43 256.85,128.07 257.10,127.75 257.35,127.49 257.60,127.34 257.85,127.30 258.10,127.40 258.35,127.62 258.60,127.92 258.85,128.28 259.10,128.66 259.35,129.04 259.60,129.40 259.85,129.74 260.10,130.04 260.35,130.31 260.60,130.54 260.85,130.74 261.10,130.91 261.35,131.04 261.60,131.16 261.85,131.25" fill="none" stroke="#14c8c8" stroke-width="1.4" stroke-linejoin="round"/>
<polyline points="299.60,137.30 299.85,137.30 300.10,137.30 300.35,137.30 300.60,137.30 300.85,137.30 301.10,137.30 301.35,137.30 301.60,137.30 301.85,137.30 302.10,137.30 302.35,137.30 302.60,137.30 302.85,137.30 303.10,137.30 303.35,137.30 303.60,137.30 303.85,137.30 304.10,137.30 304.35,137.30 304.60,137.30 304.85,137.30 305.10,137.30 305.35,137.30 305.60,137.30 305.85,137.30 306.10,137.30 306.35,137.30 306.60,137.30 306.85,137.30 307.10,137.30 307.35,137.30 307.60,137.30 307.85,137.30 308.10,137.30 308.35,137.30 308.60,137.30 308.85,137.30 309.10,137.30 309.35,137.30 309.60,137.30 309.85,137.30 310.10,137.30 310.35,137.29 310.60,137.29 310.85,137.29 311.10,137.29 311.35,137.29 311.60,137.29 311.85,137.29 312.10,137.29 312.35,137.29 312.60,137.29 312.85,137.29 313.10,137.29 313.35,137.29 313.60,137.29 313.85,137.29 314.10,137.29 314.35,137.29 314.60,137.29 314.85,137.29 315.10,137.29 315.35,137.29 315.60,137.29 315.85,137.29 316.10,137.29 316.35,137.29 316.60,137.29 316.85,137.29 317.10,137.29 317.35,137.29 317.60,137.29 317.85,137.29 318.10,137.28 318.35,137.28 318.60,137.28 318.85,137.28 319.10,137.28 319.35,137.28 319.60,137.28 319.85,137.28 320.10,137.28 320.35,137.28 320.60,137.28 320.85,137.28 321.10,137.28 321.35,137.28 321.60,137.28 321.85,137.28 322.10,137.28 322.35,137.28 322.60,137.28 322.85,137.28 323.10,137.28 323.35,137.27 323.60,137.27 323.85,137.27 324.10,137.27 324.35,137.27 324.60,137.27 324.85,137.27 325.10,137.27 325.35,137.27 325.60,137.27 325.85,137.27 326.10,137.27 326.35,137.27 326.60,137.27 326.85,137.27 327.10,137.27 327.35,137.27 327.60,137.26 327.85,137.26 328.10,137.26 328.35,137.26 328.60,137.26 328.85,137.26 329.10,137.26 329.35,137.26 329.60,137.26 329.85,137.26 330.10,137.26 330.35,137.26 330.60,137.26 330.85,137.26 331.10,137.26 331.35,137.25 331.60,137.25 331.85,137.25 332.10,137.25 332.35,137.25 332.60,137.25 332.85,137.25 333.10,137.25 333.35,137.25 333.60,137.25 333.85,137.25 334.10,137.25 334.35,137.25 334.60,137.24 334.85,137.24 335.10,137.24 335.35,137.24 335.60,137.24 335.85,137.24 336.10,137.24 336.35,137.24 336.60,137.24 336.85,137.24 337.10,137.24 337.35,137.24 337.60,137.23 337.85,137.23 338.10,137.23 338.35,137.23 338.60,137.23 338.85,137.23 339.10,137.23 339.35,137.23 339.60,137.23 339.85,137.23 340.10,137.23 340.35,137.22 340.60,137.22 340.85,137.22 341.10,137.22 341.35,137.22 341.60,137.22 341.85,137.22 342.10,137.22 342.35,137.22 342.60,137.22 342.85,137.22 343.10,137.21 343.35,137.21 343.60,137.21 343.85,137.21 344.10,137.21 344.35,137.21 344.60,137.21 344.85,137.21 345.10,137.21 345.35,137.20 345.60,137.20 345.85,137.20 346.10,137.20 346.35,137.20 346.60,137.20 346.85,137.20 347.10,137.20 347.35,137.20 347.60,137.20 347.85,137.19 348.10,137.19 348.35,137.19 348.60,137.19 348.85,137.19 349.10,137.19 349.35,137.19 349.60,137.19 349.85,137.18 350.10,137.18 350.35,137.18 350.60,137.18 350.85,137.18 351.10,137.18 351.35,137.18 351.60,137.18 351.85,137.18 352.10,137.17 352.35,137.17 352.60,137.17 352.85,137.17 353.10,137.17 353.35,137.17 353.60,137.17 353.85,137.17 354.10,137.16 354.35,137.16 354.60,137.16 354.85,137.16 355.10,137.16 355.35,137.16 355.60,137.16 355.85,137.16 356.10,137.15 356.35,137.15 356.60,137.15 356.85,137.15 357.10,137.15 357.35,137.15 357.60,137.15 357.85,137.14 358.10,137.14 358.35,137.14 358.60,137.14 358.85,137.14 359.10,137.14 359.35,137.14 359.60,137.13 359.85,137.13 360.10,137.13 360.35,137.13 360.60,137.13 360.85,137.13 361.10,137.13 361.35,137.12 361.60,137.12 361.85,137.12 362.10,137.12 362.35,137.12 362.60,137.12 362.85,137.12 363.10,137.11 363.35,137.11 363.60,137.11 363.85,137.11 364.10,137.11 364.35,137.11 364.60,137.11 364.85,137.10 365.10,137.10 365.35,137.10 365.60,137.10 365.85,137.10 366.10,137.10 366.35,137.09 366.60,137.09 366.85,137.09 367.10,137.09 367.35,137.09 367.60,137.09 367.85,137.09 368.10,137.08 368.35,137.08 368.60,137.08 368.85,137.08 369.10,137.08 369.35,137.08 369.60,137.07 369.85,137.07 370.10,137.07 370.35,137.07 370.60,137.07 370.85,137.07 371.10,137.06 371.35,137.06 371.60,137.06 371.85,137.06 372.10,137.06 372.35,137.06 372.60,137.05 372.85,137.05 373.10,137.05 373.35,137.05 373.60,137.05 373.85,137.05 374.10,137.04 374.35,137.04 374.60,137.04 374.85,137.04 375.10,137.04 375.35,137.03 375.60,137.03 375.85,137.03 376.10,137.03 376.35,137.03 376.60,137.03 376.85,137.02 377.10,137.02 377.35,137.02 377.60,137.02 377.85,137.02 378.10,137.01 378.35,137.01 378.60,137.01 378.85,137.01 379.10,137.01 379.35,137.00 379.60,137.00 379.85,137.00 380.10,137.00 380.35,137.00 380.60,136.99 380.85,136.99 381.10,136.99 381.35,136.99 381.60,136.98 381.85,136.98 382.10,136.98 382.35,136.98 382.60,136.97 382.85,136.97 383.10,136.97 383.35,136.96 383.60,136.96 383.85,136.95 384.10,136.95 384.35,136.95 384.60,136.94 384.85,136.94 385.10,136.93 385.35,136.93 385.60,136.92 385.85,136.92 386.10,136.91 386.35,136.91 386.60,136.90 386.85,136.90 387.10,136.89 387.35,136.89 387.60,136.88 387.85,136.87 388.10,136.87 388.35,136.86 388.60,136.86 388.85,136.85 389.10,136.84 389.35,136.84 389.60,136.83 389.85,136.82 390.10,136.82 390.35,136.81 390.60,136.80 390.85,136.79 391.10,136.79 391.35,136.78 391.60,136.77 391.85,136.76 392.10,136.76 392.35,136.75 392.60,136.74 392.85,136.73 393.10,136.73 393.35,136.72 393.60,136.71 393.85,136.70 394.10,136.69 394.35,136.68 394.60,136.67 394.85,136.67 395.10,136.66 395.35,136.65 395.60,136.64 395.85,136.63 396.10,136.62 396.35,136.61 396.60,136.60 396.85,136.59 397.10,136.58 397.35,136.57 397.60,136.56 397.85,136.55 398.10,136.54 398.35,136.53 398.60,136.52 398.85,136.51 399.10,136.50 399.35,136.49 399.60,136.48 399.85,136.47 400.10,136.46 400.35,136.45 400.60,136.44 400.85,136.43 401.10,136.42 401.35,136.41 401.60,136.40 401.85,136.39 402.10,136.38 402.35,136.37 402.60,136.35 402.85,136.34 403.10,136.33 403.35,136.32 403.60,136.31 403.85,136.30 404.10,136.29 404.35,136.27 404.60,136.26 404.85,136.25 405.10,136.24 405.35,136.23 405.60,136.22 405.85,136.20 406.10,136.19 406.35,136.18 406.60,136.17 406.85,136.16 407.10,136.14 407.35,136.13 407.60,136.12 407.85,136.11 408.10,136.09 408.35,136.08 408.60,136.07 408.85,136.06 409.10,136.05 409.35,136.03 409.60,136.02 409.85,136.01 410.10,135.99 410.35,135.98 410.60,135.97 410.85,135.95 411.10,135.94 411.35,135.93 411.60,135.91 411.85,135.90 412.10,135.88 412.35,135.87 412.60,135.85 412.85,135.83 413.10,135.82 413.35,135.80 413.60,135.78 413.85,135.77 414.10,135.75 414.35,135.73 414.60,135.71 414.85,135.69 415.10,135.67 415.35,135.65 415.60,135.63 415.85,135.61 416.10,135.59 416.35,135.57 416.60,135.55 416.85,135.52 417.10,135.50 417.35,135.48 417.60,135.45 417.85,135.43 418.10,135.40 418.35,135.38 418.60,135.35 418.85,135.33 419.10,135.30 419.35,135.27 419.60,135.24 419.85,135.21 420.10,135.18 420.35,135.15 420.60,135.12 420.85,135.08 421.10,135.04 421.35,135.01 421.60,134.96 421.85,134.92 422.10,134.88 422.35,134.83 422.60,134.79 422.85,134.74 423.10,134.69 423.35,134.64 423.60,134.59 423.85,134.54 424.10,134.49 424.35,134.43 424.60,134.38 424.85,134.33 425.10,134.28 425.35,134.22 425.60,134.17 425.85,134.11 426.10,134.06 426.35,134.00 426.60,133.94 426.85,133.88 427.10,133.82 427.35,133.76 427.60,133.70 427.85,133.63 428.10,133.57 428.35,133.51 428.60,133.44 428.85,133.38 429.10,133.31 429.35,133.25 429.60,133.18 429.85,133.11 430.10,133.05 430.35,132.98 430.60,132.91 430.85,132.85 431.10,132.78 431.35,132.71 431.60,132.65 431.85,132.58 432.10,132.52 432.35,132.46 432.60,132.39 432.85,132.33 433.10,132.27 433.35,132.21 433.60,132.14 433.85,132.08 434.10,132.01 434.35,131.95 434.60,131.88 434.85,131.82 435.10,131.75 435.35,131.68 435.60,131.60 435.85,131.53 436.10,131.45 436.35,131.37 436.60,131.29 436.85,131.20 437.10,131.12 437.35,131.02 437.60,130.92 437.85,130.82 438.10,130.71 438.35,130.60 438.60,130.48 438.85,130.35 439.10,130.22 439.35,130.08 439.60,129.94 439.85,129.79 440.10,129.63 440.35,129.47 440.60,129.31 440.85,129.15 441.10,128.98 441.35,128.81 441.60,128.64 441.85,128.46 442.10,128.28 442.35,128.10 442.60,127.92 442.85,127.74 443.10,127.56 443.35,127.37 443.60,127.18 443.85,126.98 444.10,126.78 444.35,126.58 444.60,126.36 444.85,126.14 445.10,125.92 445.35,125.68 445.60,125.43 445.85,125.18 446.10,124.91 446.35,124.63 446.60,124.34 446.85,124.02 447.10,123.69 447.35,123.34 447.60,122.97 447.85,122.57 448.10,122.15 448.35,121.70 448.60,121.21 448.85,120.69 449.10,120.11 449.35,119.48 449.60,118.77 449.85,117.96 450.10,117.03 450.35,115.95 450.60,114.71 450.85,113.34 451.10,111.85 451.35,110.32 451.60,108.78 451.85,107.29 452.10,105.87 452.35,104.52 452.60,103.24 452.85,102.02 453.10,100.84 453.35,99.67 453.60,98.52 453.85,97.37 454.10,96.24 454.35,95.14 454.60,94.07 454.85,93.05 455.10,92.08 455.35,91.18 455.60,90.34 455.85,89.59 456.10,88.92 456.35,88.34 456.60,87.84 456.85,87.42 457.10,87.09 457.35,86.85 457.60,86.71 457.85,86.68 458.10,86.78 458.35,86.98 458.60,87.30 458.85,87.72 459.10,88.25 459.35,88.87 459.60,89.62 459.85,90.49 460.10,91.48 460.35,92.60 460.60,93.83 460.85,95.15 461.10,96.54 461.35,97.99 461.60,99.50 461.85,101.05 462.10,102.64 462.35,104.26 462.60,105.91 462.85,107.56 463.10,109.23 463.35,110.92 463.60,112.61 463.85,114.33 464.10,116.07 464.35,117.84 464.60,119.63 464.85,121.41 465.10,123.14 465.35,124.76 465.60,126.24 465.85,127.54 466.10,128.66 466.35,129.62 466.60,130.44 466.85,131.15 467.10,131.76 467.35,132.31 467.60,132.78 467.85,133.20 468.10,133.58 468.35,133.93 468.60,134.24 468.85,134.53 469.10,134.81 469.35,135.06 469.60,135.30 469.85,135.52 470.10,135.71 470.35,135.88 470.60,136.03 470.85,136.15 471.10,136.26 471.35,136.34 471.60,136.41 471.85,136.47 472.10,136.52 472.35,136.56 472.60,136.60 472.85,136.64 473.10,136.68 473.35,136.72 473.60,136.75 473.85,136.78 474.10,136.82 474.35,136.85 474.60,136.88 474.85,136.90 475.10,136.93 475.35,136.95 475.60,136.98 475.85,137.00 476.10,137.02 476.35,137.04 476.60,137.06 476.85,137.08 477.10,137.09 477.35,137.11 477.60,137.12 477.85,137.13 478.10,137.14 478.35,137.15 478.60,137.16 478.85,137.17 479.10,137.18 479.35,137.19 479.60,137.19 479.85,137.20 480.10,137.20 480.35,137.20 480.60,137.21 480.85,137.21 481.10,137.21 481.35,137.22 481.60,137.22 481.85,137.22 482.10,137.23 482.35,137.23 482.60,137.23 482.85,137.23 483.10,137.24 483.35,137.24 483.60,137.24 483.85,137.25 484.10,137.25 484.35,137.25 484.60,137.25 484.85,137.26 485.10,137.26 485.35,137.26 485.60,137.27 485.85,137.27 486.10,137.27 486.35,137.27 486.60,137.28 486.85,137.28 487.10,137.28 487.35,137.28 487.60,137.29 487.85,137.29 488.10,137.29 488.35,137.29 488.60,137.30 488.85,137.30 489.10,137.30 489.35,137.30 489.60,137.31 489.85,137.31 490.10,137.31 490.35,137.31 490.60,137.32 490.85,137.32 491.10,137.32 491.35,137.32 491.60,137.32 491.85,137.33 492.10,137.33 492.35,137.33 492.60,137.33 492.85,137.34 493.10,137.34 493.35,137.34 493.60,137.34 493.85,137.34 494.10,137.35 494.35,137.35 494.60,137.35 494.85,137.35 495.10,137.35 495.35,137.36 495.60,137.36 495.85,137.36 496.10,137.36 496.35,137.36 496.60,137.37 496.85,137.37 497.10,137.37 497.35,137.37 497.60,137.37 497.85,137.37 498.10,137.38 498.35,137.38 498.60,137.38 498.85,137.38 499.10,137.38 499.35,137.39 499.60,137.39 499.85,137.39 500.10,137.39 500.35,137.39 500.60,137.39 500.85,137.40 501.10,137.40 501.35,137.40 501.60,137.40 501.85,137.40 502.10,137.40 502.35,137.40 502.60,137.41 502.85,137.41 503.10,137.41 503.35,137.41 503.60,137.41 503.85,137.41 504.10,137.42 504.35,137.42 504.60,137.42 504.85,137.42 505.10,137.42 505.35,137.42 505.60,137.42 505.85,137.42 506.10,137.43 506.35,137.43 506.60,137.43 506.85,137.43 507.10,137.43 507.35,137.43 507.60,137.43 507.85,137.44 508.10,137.44 508.35,137.44 508.60,137.44 508.85,137.44 509.10,137.44 509.35,137.44 509.60,137.44 509.85,137.44 510.10,137.45 510.35,137.45 510.60,137.45 510.85,137.45 511.10,137.45 511.35,137.45 511.60,137.45 511.85,137.45 512.10,137.45 512.35,137.45 512.60,137.46 512.85,137.46 513.10,137.46 513.35,137.46 513.60,137.46 513.85,137.46 514.10,137.46 514.35,137.46 514.60,137.46 514.85,137.46 515.10,137.46 515.35,137.47 515.60,137.47 515.85,137.47 516.10,137.47 516.35,137.47 516.60,137.47 516.85,137.47 517.10,137.47 517.35,137.47 517.60,137.47 517.85,137.47 518.10,137.47 518.35,137.47 518.60,137.48 518.85,137.48 519.10,137.48 519.35,137.48 519.60,137.48 519.85,137.48 520.10,137.48 520.35,137.48 520.60,137.48 520.85,137.48 521.10,137.48 521.35,137.48 521.60,137.48 521.85,137.48 522.10,137.48 522.35,137.48 522.60,137.49 522.85,137.49 523.10,137.49 523.35,137.49 523.60,137.49 523.85,137.49 524.10,137.49 524.35,137.49 524.60,137.49 524.85,137.49 525.10,137.49 525.35,137.49 525.60,137.49 525.85,137.49 526.10,137.49 526.35,137.49 526.60,137.49 526.85,137.49 527.10,137.49 527.35,137.49 527.60,137.49 527.85,137.49 528.10,137.49 528.35,137.49 528.60,137.49 528.85,137.49 529.10,137.50 529.35,137.50 529.60,137.50 529.85,137.50 530.10,137.50 530.35,137.50 530.60,137.50 530.85,137.50 531.10,137.50 531.35,137.50 531.60,137.50 531.85,137.50 532.10,137.50 532.35,137.50 532.60,137.50 532.85,137.50 533.10,137.50 533.35,137.50 533.60,137.50 533.85,137.50 534.10,137.50 534.35,137.50 534.60,137.50 534.85,137.50 535.10,137.50 535.35,137.50 535.60,137.50 535.85,137.50 536.10,137.50 536.35,137.50 536.60,137.50 536.85,137.50 537.10,137.50 537.35,137.50 537.60,137.50 537.85,137.50 538.10,137.50" fill="none" stroke="#14c8c8" stroke-width="1.4" stroke-linejoin="round"/>
<polyline points="23.60,169.60 23.85,169.61 24.10,169.62 24.35,169.63 24.60,169.64 24.85,169.65 25.10,169.67 25.35,169.68 25.60,169.69 25.85,169.70 26.10,169.71 26.35,169.72 26.60,169.73 26.85,169.74 27.10,169.75 27.35,169.76 27.60,169.78 27.85,169.79 28.10,169.80 28.35,169.81 28.60,169.82 28.85,169.83 29.10,169.84 29.35,169.85 29.60,169.86 29.85,169.87 30.10,169.89 30.35,169.90 30.60,169.91 30.85,169.92 31.10,169.93 31.35,169.94 31.60,169.95 31.85,169.96 32.10,169.97 32.35,169.98 32.60,170.00 32.85,170.01 33.10,170.02 33.35,170.03 33.60,170.04 33.85,170.05 34.10,170.06 34.35,170.07 34.60,170.08 34.85,170.09 35.10,170.11 35.35,170.12 35.60,170.13 35.85,170.15 36.10,170.16 36.35,170.18 36.60,170.19 36.85,170.21 37.10,170.22 37.35,170.24 37.60,170.25 37.85,170.26 38.10,170.28 38.35,170.29 38.60,170.31 38.85,170.32 39.10,170.34 39.35,170.35 39.60,170.37 39.85,170.38 40.10,170.39 40.35,170.41 40.60,170.42 40.85,170.44 41.10,170.45 41.35,170.47 41.60,170.48 41.85,170.49 42.10,170.51 42.35,170.52 42.60,170.54 42.85,170.55 43.10,170.57 43.35,170.58 43.60,170.60 43.85,170.61 44.10,170.62 44.35,170.64 44.60,170.65 44.85,170.67 45.10,170.68 45.35,170.69 45.60,170.71 45.85,170.72 46.10,170.74 46.35,170.75 46.60,170.77 46.85,170.78 47.10,170.79 47.35,170.81 47.60,170.82 47.85,170.84 48.10,170.85 48.35,170.87 48.60,170.88 48.85,170.89 49.10,170.91 49.35,170.92 49.60,170.94 49.85,170.95 50.10,170.96 50.35,170.98 50.60,170.99 50.85,171.01 51.10,171.02 51.35,171.03 51.60,171.05 51.85,171.06 52.10,171.08 52.35,171.09 52.60,171.10 52.85,171.12 53.10,171.13 53.35,171.14 53.60,171.16 53.85,171.17 54.10,171.19 54.35,171.20 54.60,171.21 54.85,171.23 55.10,171.24 55.35,171.25 55.60,171.27 55.85,171.28 56.10,171.30 56.35,171.31 56.60,171.32 56.85,171.34 57.10,171.35 57.35,171.36 57.60,171.38 57.85,171.39 58.10,171.40 58.35,171.41 58.60,171.43 58.85,171.44 59.10,171.45 59.35,171.47 59.60,171.48 59.85,171.49 60.10,171.50 60.35,171.51 60.60,171.52 60.85,171.52 61.10,171.53 61.35,171.53 61.60,171.54 61.85,171.55 62.10,171.55 62.35,171.56 62.60,171.56 62.85,171.57 63.10,171.57 63.35,171.58 63.60,171.58 63.85,171.59 64.10,171.59 64.35,171.60 64.60,171.60 64.85,171.61 65.10,171.61 65.35,171.61 65.60,171.62 65.85,171.62 66.10,171.62 66.35,171.62 66.60,171.63 66.85,171.63 67.10,171.63 67.35,171.63 67.60,171.63 67.85,171.63 68.10,171.63 68.35,171.63 68.60,171.63 68.85,171.62 69.10,171.62 69.35,171.62 69.60,171.61 69.85,171.60 70.10,171.60 70.35,171.58 70.60,171.57 70.85,171.56 71.10,171.54 71.35,171.52 71.60,171.50 71.85,171.48 72.10,171.46 72.35,171.43 72.60,171.39 72.85,171.36 73.10,171.31 73.35,171.27 73.60,171.21 73.85,171.15 74.10,171.08 74.35,170.99 74.60,170.90 74.85,170.78 75.10,170.65 75.35,170.50 75.60,170.31 75.85,170.08 76.10,169.80 76.35,169.43 76.60,168.94 76.85,168.27 77.10,167.29 77.35,165.87 77.60,163.81 77.85,160.93 78.10,157.07 78.35,152.18 78.60,146.46 78.85,140.50 79.10,135.47 79.35,132.97 79.60,134.09 79.85,138.30 80.10,144.08 80.35,150.00 80.60,155.27 80.85,159.56 81.10,162.83 81.35,165.20 81.60,166.86 81.85,168.00 82.10,168.79 82.35,169.35 82.60,169.76 82.85,170.08 83.10,170.34 83.35,170.55 83.60,170.72 83.85,170.87 84.10,170.99 84.35,171.10 84.60,171.19 84.85,171.27 85.10,171.34 85.35,171.40 85.60,171.46 85.85,171.50 86.10,171.54 86.35,171.57 86.60,171.60 86.85,171.62 87.10,171.63 87.35,171.64 87.60,171.65 87.85,171.65 88.10,171.64 88.35,171.63 88.60,171.61 88.85,171.58 89.10,171.53 89.35,171.48 89.60,171.40 89.85,171.28 90.10,171.13 90.35,170.90 90.60,170.58 90.85,170.12 91.10,169.48 91.35,168.64 91.60,167.57 91.85,166.28 92.10,164.84 92.35,163.42 92.60,162.26 92.85,161.71 93.10,161.97 93.35,162.94 93.60,164.32 93.85,165.80 94.10,167.18 94.35,168.37 94.60,169.33 94.85,170.07 95.10,170.62 95.35,171.01 95.60,171.30 95.85,171.51 96.10,171.66 96.35,171.78 96.60,171.87 96.85,171.95 97.10,172.01 97.35,172.07 97.60,172.12 97.85,172.16 98.10,172.20 98.35,172.23 98.60,172.27 98.85,172.29 99.10,172.32 99.35,172.34 99.60,172.37 99.85,172.39 100.10,172.41 100.35,172.42 100.60,172.44 100.85,172.46 101.10,172.47 101.35,172.49 101.60,172.50 101.85,172.51 102.10,172.53 102.35,172.54 102.60,172.55 102.85,172.56 103.10,172.57 103.35,172.58 103.60,172.59 103.85,172.60 104.10,172.61 104.35,172.62 104.60,172.63 104.85,172.64 105.10,172.65 105.35,172.66 105.60,172.67 105.85,172.68 106.10,172.68 106.35,172.69 106.60,172.70 106.85,172.71 107.10,172.72 107.35,172.72 107.60,172.73 107.85,172.74 108.10,172.75 108.35,172.75 108.60,172.76 108.85,172.77 109.10,172.77 109.35,172.78 109.60,172.79 109.85,172.80 110.10,172.80 110.35,172.81 110.60,172.81 110.85,172.82 111.10,172.82 111.35,172.83 111.60,172.83 111.85,172.84 112.10,172.84 112.35,172.85 112.60,172.85 112.85,172.86 113.10,172.86 113.35,172.87 113.60,172.87 113.85,172.88 114.10,172.88 114.35,172.89 114.60,172.89 114.85,172.90 115.10,172.90 115.35,172.91 115.60,172.91 115.85,172.91 116.10,172.92 116.35,172.92 116.60,172.93 116.85,172.93 117.10,172.94 117.35,172.94 117.60,172.94 117.85,172.95 118.10,172.95 118.35,172.95 118.60,172.96 118.85,172.96 119.10,172.96 119.35,172.97 119.60,172.97 119.85,172.97 120.10,172.98 120.35,172.98 120.60,172.98 120.85,172.99 121.10,172.99 121.35,172.99 121.60,172.99 121.85,172.99 122.10,173.00 122.35,173.00 122.60,173.00 122.85,173.00 123.10,173.00 123.35,173.00 123.60,173.00 123.85,173.00 124.10,173.00 124.35,173.00 124.60,173.00 124.85,173.00 125.10,173.00 125.35,172.99 125.60,172.99 125.85,172.98 126.10,172.98 126.35,172.97 126.60,172.96 126.85,172.95 127.10,172.94 127.35,172.93 127.60,172.92 127.85,172.91 128.10,172.90 128.35,172.88 128.60,172.86 128.85,172.84 129.10,172.82 129.35,172.79 129.60,172.77 129.85,172.73 130.10,172.70 130.35,172.66 130.60,172.61 130.85,172.55 131.10,172.49 131.35,172.42 131.60,172.33 131.85,172.23 132.10,172.11 132.35,171.96 132.60,171.77 132.85,171.52 133.10,171.18 133.35,170.71 133.60,170.04 133.85,169.11 134.10,167.84 134.35,166.16 134.60,164.03 134.85,161.48 135.10,158.64 135.35,155.81 135.60,153.53 135.85,152.43 136.10,152.92 136.35,154.81 136.60,157.49 136.85,160.38 137.10,163.07 137.35,165.38 137.60,167.25 137.85,168.68 138.10,169.74 138.35,170.51 138.60,171.05 138.85,171.44 139.10,171.73 139.35,171.94 139.60,172.11 139.85,172.25 140.10,172.36 140.35,172.46 140.60,172.54 140.85,172.61 141.10,172.67 141.35,172.72 141.60,172.77 141.85,172.81 142.10,172.85 142.35,172.88 142.60,172.91 142.85,172.94 143.10,172.96 143.35,172.98 143.60,173.00 143.85,173.02 144.10,173.04 144.35,173.05 144.60,173.07 144.85,173.08 145.10,173.09 145.35,173.10 145.60,173.11 145.85,173.12 146.10,173.13 146.35,173.14 146.60,173.15 146.85,173.15 147.10,173.16 147.35,173.17 147.60,173.17 147.85,173.18 148.10,173.18 148.35,173.18 148.60,173.19 148.85,173.19 149.10,173.19 149.35,173.20 149.60,173.20 149.85,173.20 150.10,173.20 150.35,173.20 150.60,173.20 150.85,173.20 151.10,173.19 151.35,173.19 151.60,173.19 151.85,173.19 152.10,173.18 152.35,173.18 152.60,173.17 152.85,173.17 153.10,173.16 153.35,173.15 153.60,173.14 153.85,173.13 154.10,173.12 154.35,173.11 154.60,173.09 154.85,173.08 155.10,173.06 155.35,173.04 155.60,173.02 155.85,172.99 156.10,172.96 156.35,172.93 156.60,172.90 156.85,172.85 157.10,172.81 157.35,172.75 157.60,172.69 157.85,172.61 158.10,172.52 158.35,172.41 158.60,172.28 158.85,172.10 159.10,171.87 159.35,171.56 159.60,171.14 159.85,170.57 160.10,169.80 160.35,168.78 160.60,167.49 160.85,165.92 161.10,164.10 161.35,162.12 161.60,160.17 161.85,158.57 162.10,157.68 162.35,157.78 162.60,158.84 162.85,160.53 163.10,162.51 163.35,164.46 163.60,166.23 163.85,167.74 164.10,168.96 164.35,169.92 164.60,170.64 164.85,171.17 165.10,171.56 165.35,171.83 165.60,172.03 165.85,172.18 166.10,172.28 166.35,172.35 166.60,172.40 166.85,172.42 167.10,172.41 167.35,172.37 167.60,172.29 167.85,172.18 168.10,172.02 168.35,171.82 168.60,171.57 168.85,171.30 169.10,170.99 169.35,170.69 169.60,170.43 169.85,170.25 170.10,170.20 170.35,170.29 170.60,170.50 170.85,170.79 171.10,171.13 171.35,171.47 171.60,171.78 171.85,172.07 172.10,172.31 172.35,172.52 172.60,172.68 172.85,172.82 173.10,172.92 173.35,173.00 173.60,173.07 173.85,173.12 174.10,173.16 174.35,173.19 174.60,173.22 174.85,173.24 175.10,173.26 175.35,173.28 175.60,173.30 175.85,173.31 176.10,173.33 176.35,173.34 176.60,173.35 176.85,173.36 177.10,173.37 177.35,173.38 177.60,173.39 177.85,173.39 178.10,173.40 178.35,173.41 178.60,173.41 178.85,173.42 179.10,173.42 179.35,173.43 179.60,173.43 179.85,173.44 180.10,173.44 180.35,173.45 180.60,173.45 180.85,173.46 181.10,173.46 181.35,173.46 181.60,173.47 181.85,173.47 182.10,173.47 182.35,173.48 182.60,173.48 182.85,173.48 183.10,173.48 183.35,173.49 183.60,173.49 183.85,173.49 184.10,173.49 184.35,173.49 184.60,173.50 184.85,173.50 185.10,173.50 185.35,173.50 185.60,173.50 185.85,173.50 186.10,173.50 186.35,173.51 186.60,173.51 186.85,173.51 187.10,173.51 187.35,173.51 187.60,173.51 187.85,173.51 188.10,173.51 188.35,173.51 188.60,173.51 188.85,173.51 189.10,173.51 189.35,173.51 189.60,173.51 189.85,173.51 190.10,173.50 190.35,173.50 190.60,173.50 190.85,173.50 191.10,173.50 191.35,173.50 191.60,173.50 191.85,173.49 192.10,173.49 192.35,173.49 192.60,173.49 192.85,173.48 193.10,173.48 193.35,173.47 193.60,173.47 193.85,173.46 194.10,173.46 194.35,173.45 194.60,173.44 194.85,173.43 195.10,173.42 195.35,173.41 195.60,173.40 195.85,173.38 196.10,173.36 196.35,173.33 196.60,173.30 196.85,173.27 197.10,173.22 197.35,173.16 197.60,173.09 197.85,173.00 198.10,172.89 198.35,172.77 198.60,172.62 198.85,172.44 199.10,172.25 199.35,172.03 199.60,171.81 199.85,171.58 200.10,171.37 200.35,171.19 200.60,171.06 200.85,171.00 201.10,171.03 201.35,171.13 201.60,171.29 201.85,171.50 202.10,171.72 202.35,171.95 202.60,172.17 202.85,172.37 203.10,172.55 203.35,172.71 203.60,172.85 203.85,172.97 204.10,173.06 204.35,173.14 204.60,173.21 204.85,173.26 205.10,173.30 205.35,173.33 205.60,173.36 205.85,173.38 206.10,173.40 206.35,173.41 206.60,173.43 206.85,173.44 207.10,173.45 207.35,173.46 207.60,173.46 207.85,173.47 208.10,173.48 208.35,173.48 208.60,173.48 208.85,173.49 209.10,173.49 209.35,173.49 209.60,173.50 209.85,173.50 210.10,173.50 210.35,173.50 210.60,173.50 210.85,173.50 211.10,173.50 211.35,173.50 211.60,173.50 211.85,173.50 212.10,173.50 212.35,173.50 212.60,173.49 212.85,173.49 213.10,173.49 213.35,173.48 213.60,173.48 213.85,173.47 214.10,173.47 214.35,173.46 214.60,173.45 214.85,173.45 215.10,173.44 215.35,173.43 215.60,173.42 215.85,173.41 216.10,173.39 216.35,173.38 216.60,173.36 216.85,173.34 217.10,173.32 217.35,173.30 217.60,173.27 217.85,173.24 218.10,173.20 218.35,173.16 218.60,173.10 218.85,173.03 219.10,172.95 219.35,172.84 219.60,172.70 219.85,172.53 220.10,172.33 220.35,172.07 220.60,171.77 220.85,171.42 221.10,171.03 221.35,170.59 221.60,170.13 221.85,169.67 222.10,169.24 222.35,168.89 222.60,168.66 222.85,168.60 223.10,168.72 223.35,168.98 223.60,169.36 223.85,169.79 224.10,170.24 224.35,170.68 224.60,171.08 224.85,171.43 225.10,171.74 225.35,171.99 225.60,172.19 225.85,172.34 226.10,172.45 226.35,172.51 226.60,172.54 226.85,172.52 227.10,172.47 227.35,172.37 227.60,172.24 227.85,172.07 228.10,171.87 228.35,171.63 228.60,171.36 228.85,171.07 229.10,170.79 229.35,170.53 229.60,170.33 229.85,170.21 230.10,170.21 230.35,170.33 230.60,170.53 230.85,170.80 231.10,171.11 231.35,171.42 231.60,171.72 231.85,172.00 232.10,172.24 232.35,172.46 232.60,172.64 232.85,172.79 233.10,172.91 233.35,173.01 233.60,173.09 233.85,173.15 234.10,173.21 234.35,173.25 234.60,173.28 234.85,173.31 235.10,173.33 235.35,173.35 235.60,173.37 235.85,173.38 236.10,173.40 236.35,173.41 236.60,173.42 236.85,173.43 237.10,173.44 237.35,173.44 237.60,173.45 237.85,173.46 238.10,173.46 238.35,173.47 238.60,173.47 238.85,173.48 239.10,173.48 239.35,173.48 239.60,173.49 239.85,173.49 240.10,173.49 240.35,173.49 240.60,173.50 240.85,173.50 241.10,173.50 241.35,173.50 241.60,173.50 241.85,173.50 242.10,173.50 242.35,173.50 242.60,173.51 242.85,173.51 243.10,173.51 243.35,173.51 243.60,173.50 243.85,173.50 244.10,173.50 244.35,173.50 244.60,173.50 244.85,173.50 245.10,173.50 245.35,173.51 245.60,173.52 245.85,173.52 246.10,173.53 246.35,173.54 246.60,173.54 246.85,173.55 247.10,173.55 247.35,173.56 247.60,173.56 247.85,173.57 248.10,173.57 248.35,173.58 248.60,173.58 248.85,173.58 249.10,173.58 249.35,173.59 249.60,173.59 249.85,173.59 250.10,173.59 250.35,173.58 250.60,173.58 250.85,173.58 251.10,173.57 251.35,173.56 251.60,173.55 251.85,173.54 252.10,173.53 252.35,173.51 252.60,173.48 252.85,173.45 253.10,173.42 253.35,173.37 253.60,173.31 253.85,173.23 254.10,173.13 254.35,173.01 254.60,172.87 254.85,172.69 255.10,172.48 255.35,172.23 255.60,171.95 255.85,171.63 256.10,171.28 256.35,170.92 256.60,170.54 256.85,170.17 257.10,169.85 257.35,169.59 257.60,169.43 257.85,169.40 258.10,169.50 258.35,169.72 258.60,170.03 258.85,170.39 259.10,170.78 259.35,171.17 259.60,171.55 259.85,171.91 260.10,172.23 260.35,172.51 260.60,172.76 260.85,172.98 261.10,173.16 261.35,173.31 261.60,173.44 261.85,173.55" fill="none" stroke="#ecab2a" stroke-width="1.4" stroke-linejoin="round"/>
<polyline points="299.60,167.30 299.85,167.30 300.10,167.30 300.35,167.30 300.60,167.30 300.85,167.30 301.10,167.30 301.35,167.30 301.60,167.30 301.85,167.30 302.10,167.30 302.35,167.30 302.60,167.30 302.85,167.30 303.10,167.30 303.35,167.30 303.60,167.30 303.85,167.30 304.10,167.30 304.35,167.30 304.60,167.30 304.85,167.30 305.10,167.30 305.35,167.30 305.60,167.30 305.85,167.30 306.10,167.30 306.35,167.30 306.60,167.29 306.85,167.29 307.10,167.29 307.35,167.29 307.60,167.29 307.85,167.29 308.10,167.29 308.35,167.29 308.60,167.29 308.85,167.29 309.10,167.29 309.35,167.29 309.60,167.29 309.85,167.29 310.10,167.29 310.35,167.29 310.60,167.29 310.85,167.29 311.10,167.29 311.35,167.29 311.60,167.28 311.85,167.28 312.10,167.28 312.35,167.28 312.60,167.28 312.85,167.28 313.10,167.28 313.35,167.28 313.60,167.28 313.85,167.28 314.10,167.28 314.35,167.28 314.60,167.28 314.85,167.27 315.10,167.27 315.35,167.27 315.60,167.27 315.85,167.27 316.10,167.27 316.35,167.27 316.60,167.27 316.85,167.27 317.10,167.27 317.35,167.27 317.60,167.26 317.85,167.26 318.10,167.26 318.35,167.26 318.60,167.26 318.85,167.26 319.10,167.26 319.35,167.26 319.60,167.26 319.85,167.25 320.10,167.25 320.35,167.25 320.60,167.25 320.85,167.25 321.10,167.25 321.35,167.25 321.60,167.25 321.85,167.25 322.10,167.24 322.35,167.24 322.60,167.24 322.85,167.24 323.10,167.24 323.35,167.24 323.60,167.24 323.85,167.23 324.10,167.23 324.35,167.23 324.60,167.23 324.85,167.23 325.10,167.23 325.35,167.23 325.60,167.22 325.85,167.22 326.10,167.22 326.35,167.22 326.60,167.22 326.85,167.22 327.10,167.22 327.35,167.21 327.60,167.21 327.85,167.21 328.10,167.21 328.35,167.21 328.60,167.21 328.85,167.20 329.10,167.20 329.35,167.20 329.60,167.20 329.85,167.20 330.10,167.20 330.35,167.19 330.60,167.19 330.85,167.19 331.10,167.19 331.35,167.19 331.60,167.18 331.85,167.18 332.10,167.18 332.35,167.18 332.60,167.18 332.85,167.18 333.10,167.17 333.35,167.17 333.60,167.17 333.85,167.17 334.10,167.17 334.35,167.16 334.60,167.16 334.85,167.16 335.10,167.16 335.35,167.15 335.60,167.15 335.85,167.15 336.10,167.15 336.35,167.15 336.60,167.14 336.85,167.14 337.10,167.14 337.35,167.14 337.60,167.14 337.85,167.13 338.10,167.13 338.35,167.13 338.60,167.13 338.85,167.12 339.10,167.12 339.35,167.12 339.60,167.12 339.85,167.11 340.10,167.11 340.35,167.11 340.60,167.11 340.85,167.10 341.10,167.10 341.35,167.10 341.60,167.10 341.85,167.09 342.10,167.09 342.35,167.09 342.60,167.09 342.85,167.08 343.10,167.08 343.35,167.08 343.60,167.08 343.85,167.07 344.10,167.07 344.35,167.07 344.60,167.07 344.85,167.06 345.10,167.06 345.35,167.06 345.60,167.05 345.85,167.05 346.10,167.05 346.35,167.05 346.60,167.04 346.85,167.04 347.10,167.04 347.35,167.03 347.60,167.03 347.85,167.03 348.10,167.03 348.35,167.02 348.60,167.02 348.85,167.02 349.10,167.01 349.35,167.01 349.60,167.01 349.85,167.00 350.10,167.00 350.35,167.00 350.60,167.00 350.85,166.99 351.10,166.99 351.35,166.99 351.60,166.98 351.85,166.98 352.10,166.98 352.35,166.97 352.60,166.97 352.85,166.97 353.10,166.96 353.35,166.96 353.60,166.96 353.85,166.95 354.10,166.95 354.35,166.95 354.60,166.94 354.85,166.94 355.10,166.94 355.35,166.93 355.60,166.93 355.85,166.93 356.10,166.92 356.35,166.92 356.60,166.92 356.85,166.91 357.10,166.91 357.35,166.90 357.60,166.90 357.85,166.90 358.10,166.89 358.35,166.89 358.60,166.89 358.85,166.88 359.10,166.88 359.35,166.87 359.60,166.87 359.85,166.87 360.10,166.86 360.35,166.86 360.60,166.86 360.85,166.85 361.10,166.85 361.35,166.84 361.60,166.84 361.85,166.84 362.10,166.83 362.35,166.83 362.60,166.82 362.85,166.82 363.10,166.82 363.35,166.81 363.60,166.81 363.85,166.80 364.10,166.80 364.35,166.80 364.60,166.79 364.85,166.79 365.10,166.78 365.35,166.78 365.60,166.78 365.85,166.77 366.10,166.77 366.35,166.76 366.60,166.76 366.85,166.75 367.10,166.75 367.35,166.75 367.60,166.74 367.85,166.74 368.10,166.73 368.35,166.73 368.60,166.72 368.85,166.72 369.10,166.71 369.35,166.71 369.60,166.71 369.85,166.70 370.10,166.70 370.35,166.69 370.60,166.69 370.85,166.68 371.10,166.68 371.35,166.67 371.60,166.67 371.85,166.66 372.10,166.66 372.35,166.65 372.60,166.65 372.85,166.64 373.10,166.64 373.35,166.64 373.60,166.63 373.85,166.63 374.10,166.62 374.35,166.62 374.60,166.61 374.85,166.61 375.10,166.60 375.35,166.60 375.60,166.59 375.85,166.59 376.10,166.58 376.35,166.58 376.60,166.57 376.85,166.57 377.10,166.56 377.35,166.56 377.60,166.55 377.85,166.55 378.10,166.54 378.35,166.53 378.60,166.53 378.85,166.52 379.10,166.52 379.35,166.51 379.60,166.51 379.85,166.50 380.10,166.50 380.35,166.49 380.60,166.48 380.85,166.48 381.10,166.47 381.35,166.46 381.60,166.45 381.85,166.44 382.10,166.43 382.35,166.42 382.60,166.41 382.85,166.40 383.10,166.38 383.35,166.37 383.60,166.36 383.85,166.34 384.10,166.33 384.35,166.31 384.60,166.30 384.85,166.28 385.10,166.27 385.35,166.25 385.60,166.23 385.85,166.21 386.10,166.19 386.35,166.18 386.60,166.16 386.85,166.14 387.10,166.12 387.35,166.10 387.60,166.08 387.85,166.05 388.10,166.03 388.35,166.01 388.60,165.99 388.85,165.97 389.10,165.94 389.35,165.92 389.60,165.90 389.85,165.87 390.10,165.85 390.35,165.82 390.60,165.80 390.85,165.77 391.10,165.75 391.35,165.72 391.60,165.70 391.85,165.67 392.10,165.64 392.35,165.61 392.60,165.58 392.85,165.55 393.10,165.52 393.35,165.48 393.60,165.44 393.85,165.41 394.10,165.37 394.35,165.32 394.60,165.28 394.85,165.23 395.10,165.18 395.35,165.13 395.60,165.08 395.85,165.02 396.10,164.96 396.35,164.90 396.60,164.82 396.85,164.75 397.10,164.66 397.35,164.57 397.60,164.48 397.85,164.38 398.10,164.28 398.35,164.17 398.60,164.06 398.85,163.94 399.10,163.82 399.35,163.70 399.60,163.58 399.85,163.45 400.10,163.32 400.35,163.20 400.60,163.07 400.85,162.94 401.10,162.81 401.35,162.68 401.60,162.55 401.85,162.43 402.10,162.30 402.35,162.17 402.60,162.04 402.85,161.91 403.10,161.78 403.35,161.64 403.60,161.51 403.85,161.37 404.10,161.24 404.35,161.10 404.60,160.97 404.85,160.83 405.10,160.70 405.35,160.57 405.60,160.44 405.85,160.31 406.10,160.18 406.35,160.04 406.60,159.91 406.85,159.77 407.10,159.64 407.35,159.52 407.60,159.40 407.85,159.30 408.10,159.22 408.35,159.16 408.60,159.13 408.85,159.13 409.10,159.18 409.35,159.27 409.60,159.42 409.85,159.60 410.10,159.83 410.35,160.08 410.60,160.36 410.85,160.64 411.10,160.93 411.35,161.24 411.60,161.54 411.85,161.86 412.10,162.18 412.35,162.49 412.60,162.80 412.85,163.09 413.10,163.35 413.35,163.60 413.60,163.82 413.85,164.02 414.10,164.21 414.35,164.38 414.60,164.55 414.85,164.71 415.10,164.87 415.35,165.01 415.60,165.15 415.85,165.29 416.10,165.42 416.35,165.53 416.60,165.65 416.85,165.75 417.10,165.84 417.35,165.93 417.60,166.01 417.85,166.08 418.10,166.14 418.35,166.19 418.60,166.24 418.85,166.29 419.10,166.33 419.35,166.37 419.60,166.41 419.85,166.45 420.10,166.48 420.35,166.52 420.60,166.55 420.85,166.58 421.10,166.61 421.35,166.64 421.60,166.67 421.85,166.69 422.10,166.72 422.35,166.74 422.60,166.76 422.85,166.78 423.10,166.80 423.35,166.82 423.60,166.84 423.85,166.85 424.10,166.86 424.35,166.87 424.60,166.88 424.85,166.89 425.10,166.90 425.35,166.91 425.60,166.91 425.85,166.92 426.10,166.93 426.35,166.93 426.60,166.94 426.85,166.95 427.10,166.95 427.35,166.96 427.60,166.96 427.85,166.97 428.10,166.97 428.35,166.98 428.60,166.98 428.85,166.99 429.10,166.99 429.35,167.00 429.60,167.00 429.85,167.01 430.10,167.01 430.35,167.02 430.60,167.02 430.85,167.02 431.10,167.03 431.35,167.03 431.60,167.04 431.85,167.04 432.10,167.04 432.35,167.05 432.60,167.05 432.85,167.05 433.10,167.06 433.35,167.06 433.60,167.06 433.85,167.07 434.10,167.07 434.35,167.07 434.60,167.07 434.85,167.08 435.10,167.08 435.35,167.08 435.60,167.08 435.85,167.08 436.10,167.09 436.35,167.09 436.60,167.09 436.85,167.09 437.10,167.09 437.35,167.09 437.60,167.09 437.85,167.10 438.10,167.10 438.35,167.10 438.60,167.10 438.85,167.10 439.10,167.10 439.35,167.10 439.60,167.10 439.85,167.10 440.10,167.10 440.35,167.10 440.60,167.10 440.85,167.10 441.10,167.10 441.35,167.10 441.60,167.10 441.85,167.10 442.10,167.10 442.35,167.10 442.60,167.10 442.85,167.10 443.10,167.10 443.35,167.10 443.60,167.10 443.85,167.10 444.10,167.10 444.35,167.10 444.60,167.10 444.85,167.10 445.10,167.10 445.35,167.10 445.60,167.10 445.85,167.09 446.10,167.09 446.35,167.09 446.60,167.09 446.85,167.09 447.10,167.09 447.35,167.09 447.60,167.09 447.85,167.09 448.10,167.09 448.35,167.09 448.60,167.09 448.85,167.09 449.10,167.09 449.35,167.09 449.60,167.09 449.85,167.09 450.10,167.09 450.35,167.08 450.60,167.08 450.85,167.08 451.10,167.08 451.35,167.08 451.60,167.08 451.85,167.08 452.10,167.08 452.35,167.08 452.60,167.08 452.85,167.08 453.10,167.08 453.35,167.08 453.60,167.07 453.85,167.07 454.10,167.07 454.35,167.07 454.60,167.07 454.85,167.07 455.10,167.07 455.35,167.07 455.60,167.07 455.85,167.07 456.10,167.07 456.35,167.06 456.60,167.06 456.85,167.06 457.10,167.06 457.35,167.06 457.60,167.06 457.85,167.06 458.10,167.06 458.35,167.06 458.60,167.05 458.85,167.05 459.10,167.05 459.35,167.05 459.60,167.05 459.85,167.05 460.10,167.05 460.35,167.05 460.60,167.05 460.85,167.04 461.10,167.04 461.35,167.04 461.60,167.04 461.85,167.04 462.10,167.04 462.35,167.04 462.60,167.04 462.85,167.04 463.10,167.03 463.35,167.03 463.60,167.03 463.85,167.03 464.10,167.03 464.35,167.03 464.60,167.03 464.85,167.03 465.10,167.02 465.35,167.02 465.60,167.02 465.85,167.02 466.10,167.02 466.35,167.02 466.60,167.02 466.85,167.02 467.10,167.01 467.35,167.01 467.60,167.01 467.85,167.01 468.10,167.01 468.35,167.01 468.60,167.01 468.85,167.01 469.10,167.00 469.35,167.00 469.60,167.00 469.85,167.00 470.10,167.00 470.35,167.00 470.60,167.00 470.85,167.00 471.10,166.99 471.35,166.99 471.60,166.99 471.85,166.99 472.10,166.99 472.35,166.99 472.60,166.99 472.85,166.98 473.10,166.98 473.35,166.98 473.60,166.98 473.85,166.98 474.10,166.98 474.35,166.97 474.60,166.97 474.85,166.97 475.10,166.97 475.35,166.97 475.60,166.96 475.85,166.96 476.10,166.96 476.35,166.96 476.60,166.96 476.85,166.95 477.10,166.95 477.35,166.95 477.60,166.95 477.85,166.95 478.10,166.94 478.35,166.94 478.60,166.94 478.85,166.94 479.10,166.94 479.35,166.93 479.60,166.93 479.85,166.93 480.10,166.93 480.35,166.92 480.60,166.92 480.85,166.92 481.10,166.92 481.35,166.91 481.60,166.91 481.85,166.91 482.10,166.91 482.35,166.90 482.60,166.90 482.85,166.90 483.10,166.90 483.35,166.89 483.60,166.89 483.85,166.89 484.10,166.89 484.35,166.88 484.60,166.88 484.85,166.88 485.10,166.87 485.35,166.87 485.60,166.87 485.85,166.87 486.10,166.86 486.35,166.86 486.60,166.86 486.85,166.85 487.10,166.85 487.35,166.85 487.60,166.84 487.85,166.84 488.10,166.84 488.35,166.84 488.60,166.83 488.85,166.83 489.10,166.83 489.35,166.82 489.60,166.82 489.85,166.82 490.10,166.81 490.35,166.81 490.60,166.81 490.85,166.80 491.10,166.80 491.35,166.80 491.60,166.79 491.85,166.79 492.10,166.79 492.35,166.78 492.60,166.78 492.85,166.77 493.10,166.77 493.35,166.77 493.60,166.76 493.85,166.76 494.10,166.76 494.35,166.75 494.60,166.75 494.85,166.75 495.10,166.74 495.35,166.74 495.60,166.73 495.85,166.73 496.10,166.73 496.35,166.72 496.60,166.72 496.85,166.71 497.10,166.71 497.35,166.71 497.60,166.70 497.85,166.70 498.10,166.69 498.35,166.69 498.60,166.69 498.85,166.68 499.10,166.68 499.35,166.67 499.60,166.67 499.85,166.67 500.10,166.66 500.35,166.66 500.60,166.65 500.85,166.65 501.10,166.64 501.35,166.64 501.60,166.64 501.85,166.63 502.10,166.63 502.35,166.62 502.60,166.62 502.85,166.61 503.10,166.61 503.35,166.60 503.60,166.60 503.85,166.60 504.10,166.59 504.35,166.59 504.60,166.58 504.85,166.58 505.10,166.57 505.35,166.57 505.60,166.56 505.85,166.56 506.10,166.55 506.35,166.55 506.60,166.54 506.85,166.54 507.10,166.54 507.35,166.53 507.60,166.53 507.85,166.52 508.10,166.52 508.35,166.51 508.60,166.51 508.85,166.50 509.10,166.50 509.35,166.49 509.60,166.49 509.85,166.48 510.10,166.48 510.35,166.47 510.60,166.47 510.85,166.46 511.10,166.46 511.35,166.45 511.60,166.45 511.85,166.44 512.10,166.44 512.35,166.43 512.60,166.43 512.85,166.42 513.10,166.41 513.35,166.41 513.60,166.40 513.85,166.40 514.10,166.39 514.35,166.39 514.60,166.38 514.85,166.38 515.10,166.37 515.35,166.37 515.60,166.36 515.85,166.36 516.10,166.35 516.35,166.35 516.60,166.34 516.85,166.33 517.10,166.33 517.35,166.32 517.60,166.32 517.85,166.31 518.10,166.31 518.35,166.30 518.60,166.29 518.85,166.29 519.10,166.28 519.35,166.28 519.60,166.27 519.85,166.27 520.10,166.26 520.35,166.26 520.60,166.25 520.85,166.24 521.10,166.24 521.35,166.23 521.60,166.23 521.85,166.22 522.10,166.21 522.35,166.21 522.60,166.20 522.85,166.20 523.10,166.19 523.35,166.18 523.60,166.18 523.85,166.17 524.10,166.17 524.35,166.16 524.60,166.15 524.85,166.15 525.10,166.14 525.35,166.14 525.60,166.13 525.85,166.12 526.10,166.12 526.35,166.11 526.60,166.11 526.85,166.10 527.10,166.09 527.35,166.09 527.60,166.08 527.85,166.07 528.10,166.07 528.35,166.06 528.60,166.06 528.85,166.05 529.10,166.04 529.35,166.04 529.60,166.03 529.85,166.02 530.10,166.02 530.35,166.01 530.60,166.00 530.85,166.00 531.10,165.99 531.35,165.99 531.60,165.98 531.85,165.97 532.10,165.97 532.35,165.96 532.60,165.95 532.85,165.95 533.10,165.94 533.35,165.93 533.60,165.93 533.85,165.92 534.10,165.91 534.35,165.91 534.60,165.90 534.85,165.89 535.10,165.89 535.35,165.88 535.60,165.87 535.85,165.87 536.10,165.86 536.35,165.85 536.60,165.85 536.85,165.84 537.10,165.83 537.35,165.83 537.60,165.82 537.85,165.82 538.10,165.81" fill="none" stroke="#ecab2a" stroke-width="1.4" stroke-linejoin="round"/>
<polyline points="23.60,201.80 23.85,201.81 24.10,201.83 24.35,201.84 24.60,201.85 24.85,201.87 25.10,201.88 25.35,201.89 25.60,201.91 25.85,201.92 26.10,201.93 26.35,201.95 26.60,201.96 26.85,201.97 27.10,201.99 27.35,202.00 27.60,202.01 27.85,202.03 28.10,202.04 28.35,202.05 28.60,202.07 28.85,202.08 29.10,202.09 29.35,202.11 29.60,202.12 29.85,202.13 30.10,202.15 30.35,202.16 30.60,202.17 30.85,202.19 31.10,202.20 31.35,202.21 31.60,202.23 31.85,202.24 32.10,202.25 32.35,202.27 32.60,202.28 32.85,202.29 33.10,202.31 33.35,202.34 33.60,202.37 33.85,202.40 34.10,202.43 34.35,202.46 34.60,202.49 34.85,202.52 35.10,202.55 35.35,202.58 35.60,202.61 35.85,202.63 36.10,202.66 36.35,202.69 36.60,202.72 36.85,202.75 37.10,202.78 37.35,202.81 37.60,202.84 37.85,202.87 38.10,202.90 38.35,202.93 38.60,202.96 38.85,202.99 39.10,203.01 39.35,203.04 39.60,203.07 39.85,203.10 40.10,203.13 40.35,203.16 40.60,203.19 40.85,203.22 41.10,203.25 41.35,203.28 41.60,203.31 41.85,203.34 42.10,203.36 42.35,203.39 42.60,203.42 42.85,203.45 43.10,203.48 43.35,203.51 43.60,203.54 43.85,203.57 44.10,203.60 44.35,203.62 44.60,203.65 44.85,203.68 45.10,203.71 45.35,203.73 45.60,203.75 45.85,203.77 46.10,203.79 46.35,203.81 46.60,203.84 46.85,203.86 47.10,203.88 47.35,203.90 47.60,203.92 47.85,203.94 48.10,203.96 48.35,203.98 48.60,204.00 48.85,204.02 49.10,204.04 49.35,204.07 49.60,204.09 49.85,204.11 50.10,204.13 50.35,204.15 50.60,204.17 50.85,204.19 51.10,204.21 51.35,204.23 51.60,204.25 51.85,204.27 52.10,204.29 52.35,204.31 52.60,204.33 52.85,204.35 53.10,204.37 53.35,204.39 53.60,204.41 53.85,204.43 54.10,204.45 54.35,204.47 54.60,204.49 54.85,204.51 55.10,204.53 55.35,204.55 55.60,204.57 55.85,204.59 56.10,204.61 56.35,204.63 56.60,204.65 56.85,204.67 57.10,204.69 57.35,204.71 57.60,204.73 57.85,204.74 58.10,204.76 58.35,204.78 58.60,204.80 58.85,204.82 59.10,204.84 59.35,204.85 59.60,204.87 59.85,204.89 60.10,204.91 60.35,204.92 60.60,204.93 60.85,204.95 61.10,204.96 61.35,204.97 61.60,204.99 61.85,205.00 62.10,205.01 62.35,205.02 62.60,205.04 62.85,205.05 63.10,205.06 63.35,205.07 63.60,205.08 63.85,205.09 64.10,205.10 64.35,205.11 64.60,205.12 64.85,205.13 65.10,205.13 65.35,205.14 65.60,205.15 65.85,205.15 66.10,205.16 66.35,205.16 66.60,205.17 66.85,205.17 67.10,205.17 67.35,205.18 67.60,205.18 67.85,205.17 68.10,205.17 68.35,205.17 68.60,205.16 68.85,205.16 69.10,205.15 69.35,205.14 69.60,205.13 69.85,205.11 70.10,205.09 70.35,205.05 70.60,205.01 70.85,204.97 71.10,204.92 71.35,204.87 71.60,204.81 71.85,204.75 72.10,204.68 72.35,204.61 72.60,204.52 72.85,204.43 73.10,204.33 73.35,204.21 73.60,204.08 73.85,203.93 74.10,203.75 74.35,203.55 74.60,203.31 74.85,203.01 75.10,202.65 75.35,202.20 75.60,201.64 75.85,200.94 76.10,200.06 76.35,198.98 76.60,197.65 76.85,196.05 77.10,194.16 77.35,191.95 77.60,189.45 77.85,186.68 78.10,183.74 78.35,180.74 78.60,177.88 78.85,175.43 79.10,173.69 79.35,172.92 79.60,173.25 79.85,174.63 80.10,176.83 80.35,179.56 80.60,182.52 80.85,185.50 81.10,188.35 81.35,190.96 81.60,193.28 81.85,195.30 82.10,197.01 82.35,198.44 82.60,199.61 82.85,200.56 83.10,201.32 83.35,201.93 83.60,202.41 83.85,202.79 84.10,203.11 84.35,203.36 84.60,203.57 84.85,203.74 85.10,203.89 85.35,204.01 85.60,204.12 85.85,204.21 86.10,204.28 86.35,204.35 86.60,204.40 86.85,204.44 87.10,204.47 87.35,204.49 87.60,204.49 87.85,204.48 88.10,204.46 88.35,204.42 88.60,204.35 88.85,204.26 89.10,204.13 89.35,203.96 89.60,203.75 89.85,203.48 90.10,203.15 90.35,202.75 90.60,202.28 90.85,201.75 91.10,201.15 91.35,200.49 91.60,199.81 91.85,199.12 92.10,198.48 92.35,197.94 92.60,197.56 92.85,197.40 93.10,197.49 93.35,197.81 93.60,198.33 93.85,198.96 94.10,199.67 94.35,200.39 94.60,201.09 94.85,201.75 95.10,202.34 95.35,202.87 95.60,203.33 95.85,203.72 96.10,204.05 96.35,204.33 96.60,204.55 96.85,204.74 97.10,204.89 97.35,205.01 97.60,205.11 97.85,205.20 98.10,205.27 98.35,205.33 98.60,205.38 98.85,205.43 99.10,205.47 99.35,205.51 99.60,205.54 99.85,205.57 100.10,205.60 100.35,205.62 100.60,205.65 100.85,205.67 101.10,205.69 101.35,205.71 101.60,205.73 101.85,205.74 102.10,205.76 102.35,205.77 102.60,205.79 102.85,205.80 103.10,205.81 103.35,205.82 103.60,205.83 103.85,205.84 104.10,205.85 104.35,205.86 104.60,205.87 104.85,205.88 105.10,205.89 105.35,205.90 105.60,205.90 105.85,205.91 106.10,205.92 106.35,205.93 106.60,205.93 106.85,205.94 107.10,205.94 107.35,205.95 107.60,205.96 107.85,205.96 108.10,205.97 108.35,205.97 108.60,205.98 108.85,205.98 109.10,205.99 109.35,205.99 109.60,205.99 109.85,206.00 110.10,206.00 110.35,206.01 110.60,206.02 110.85,206.02 111.10,206.03 111.35,206.03 111.60,206.04 111.85,206.04 112.10,206.05 112.35,206.05 112.60,206.06 112.85,206.07 113.10,206.07 113.35,206.07 113.60,206.08 113.85,206.08 114.10,206.09 114.35,206.09 114.60,206.10 114.85,206.10 115.10,206.11 115.35,206.11 115.60,206.11 115.85,206.12 116.10,206.12 116.35,206.12 116.60,206.13 116.85,206.13 117.10,206.13 117.35,206.14 117.60,206.14 117.85,206.14 118.10,206.14 118.35,206.15 118.60,206.15 118.85,206.15 119.10,206.15 119.35,206.15 119.60,206.16 119.85,206.16 120.10,206.16 120.35,206.16 120.60,206.16 120.85,206.16 121.10,206.16 121.35,206.16 121.60,206.16 121.85,206.16 122.10,206.15 122.35,206.15 122.60,206.15 122.85,206.15 123.10,206.14 123.35,206.14 123.60,206.14 123.85,206.13 124.10,206.13 124.35,206.12 124.60,206.11 124.85,206.11 125.10,206.10 125.35,206.08 125.60,206.07 125.85,206.06 126.10,206.04 126.35,206.02 126.60,206.01 126.85,205.99 127.10,205.97 127.35,205.94 127.60,205.92 127.85,205.89 128.10,205.86 128.35,205.82 128.60,205.78 128.85,205.74 129.10,205.69 129.35,205.64 129.60,205.58 129.85,205.51 130.10,205.43 130.35,205.34 130.60,205.23 130.85,205.10 131.10,204.94 131.35,204.75 131.60,204.52 131.85,204.24 132.10,203.89 132.35,203.47 132.60,202.96 132.85,202.36 133.10,201.65 133.35,200.83 133.60,199.89 133.85,198.84 134.10,197.69 134.35,196.47 134.60,195.20 134.85,193.96 135.10,192.81 135.35,191.86 135.60,191.20 135.85,190.91 136.10,191.04 136.35,191.56 136.60,192.41 136.85,193.50 137.10,194.72 137.35,195.98 137.60,197.23 137.85,198.42 138.10,199.51 138.35,200.50 138.60,201.37 138.85,202.13 139.10,202.78 139.35,203.33 139.60,203.78 139.85,204.16 140.10,204.47 140.35,204.73 140.60,204.94 140.85,205.11 141.10,205.25 141.35,205.37 141.60,205.48 141.85,205.56 142.10,205.64 142.35,205.70 142.60,205.76 142.85,205.82 143.10,205.86 143.35,205.91 143.60,205.94 143.85,205.98 144.10,206.01 144.35,206.04 144.60,206.07 144.85,206.09 145.10,206.11 145.35,206.13 145.60,206.15 145.85,206.17 146.10,206.19 146.35,206.20 146.60,206.21 146.85,206.23 147.10,206.24 147.35,206.25 147.60,206.26 147.85,206.27 148.10,206.27 148.35,206.28 148.60,206.28 148.85,206.29 149.10,206.29 149.35,206.30 149.60,206.30 149.85,206.30 150.10,206.30 150.35,206.30 150.60,206.29 150.85,206.29 151.10,206.28 151.35,206.27 151.60,206.26 151.85,206.26 152.10,206.25 152.35,206.23 152.60,206.22 152.85,206.21 153.10,206.19 153.35,206.17 153.60,206.15 153.85,206.13 154.10,206.11 154.35,206.08 154.60,206.06 154.85,206.02 155.10,205.99 155.35,205.95 155.60,205.90 155.85,205.85 156.10,205.79 156.35,205.73 156.60,205.65 156.85,205.55 157.10,205.44 157.35,205.31 157.60,205.15 157.85,204.96 158.10,204.72 158.35,204.44 158.60,204.10 158.85,203.71 159.10,203.24 159.35,202.70 159.60,202.08 159.85,201.38 160.10,200.61 160.35,199.77 160.60,198.89 160.85,197.99 161.10,197.10 161.35,196.28 161.60,195.58 161.85,195.08 162.10,194.82 162.35,194.85 162.60,195.14 162.85,195.68 163.10,196.39 163.35,197.22 163.60,198.10 163.85,198.99 164.10,199.84 164.35,200.65 164.60,201.38 164.85,202.04 165.10,202.62 165.35,203.11 165.60,203.52 165.85,203.86 166.10,204.14 166.35,204.34 166.60,204.50 166.85,204.60 167.10,204.66 167.35,204.69 167.60,204.68 167.85,204.64 168.10,204.59 168.35,204.51 168.60,204.43 168.85,204.34 169.10,204.25 169.35,204.17 169.60,204.12 169.85,204.09 170.10,204.10 170.35,204.15 170.60,204.23 170.85,204.34 171.10,204.48 171.35,204.63 171.60,204.79 171.85,204.95 172.10,205.11 172.35,205.25 172.60,205.39 172.85,205.52 173.10,205.64 173.35,205.74 173.60,205.83 173.85,205.91 174.10,205.98 174.35,206.04 174.60,206.10 174.85,206.14 175.10,206.18 175.35,206.21 175.60,206.24 175.85,206.27 176.10,206.29 176.35,206.31 176.60,206.33 176.85,206.34 177.10,206.35 177.35,206.37 177.60,206.38 177.85,206.39 178.10,206.40 178.35,206.41 178.60,206.41 178.85,206.42 179.10,206.43 179.35,206.43 179.60,206.44 179.85,206.45 180.10,206.45 180.35,206.46 180.60,206.46 180.85,206.46 181.10,206.47 181.35,206.47 181.60,206.47 181.85,206.48 182.10,206.48 182.35,206.48 182.60,206.49 182.85,206.49 183.10,206.49 183.35,206.49 183.60,206.49 183.85,206.49 184.10,206.50 184.35,206.50 184.60,206.50 184.85,206.50 185.10,206.50 185.35,206.50 185.60,206.50 185.85,206.51 186.10,206.51 186.35,206.51 186.60,206.51 186.85,206.51 187.10,206.51 187.35,206.51 187.60,206.51 187.85,206.52 188.10,206.52 188.35,206.52 188.60,206.52 188.85,206.52 189.10,206.52 189.35,206.52 189.60,206.51 189.85,206.51 190.10,206.51 190.35,206.51 190.60,206.51 190.85,206.51 191.10,206.51 191.35,206.50 191.60,206.50 191.85,206.50 192.10,206.49 192.35,206.49 192.60,206.48 192.85,206.48 193.10,206.47 193.35,206.47 193.60,206.46 193.85,206.45 194.10,206.44 194.35,206.43 194.60,206.41 194.85,206.39 195.10,206.37 195.35,206.35 195.60,206.32 195.85,206.29 196.10,206.25 196.35,206.21 196.60,206.16 196.85,206.10 197.10,206.03 197.35,205.96 197.60,205.87 197.85,205.78 198.10,205.68 198.35,205.57 198.60,205.45 198.85,205.33 199.10,205.21 199.35,205.08 199.60,204.96 199.85,204.85 200.10,204.75 200.35,204.67 200.60,204.62 200.85,204.60 201.10,204.61 201.35,204.65 201.60,204.72 201.85,204.81 202.10,204.92 202.35,205.04 202.60,205.16 202.85,205.29 203.10,205.41 203.35,205.53 203.60,205.64 203.85,205.75 204.10,205.85 204.35,205.93 204.60,206.01 204.85,206.08 205.10,206.14 205.35,206.20 205.60,206.25 205.85,206.29 206.10,206.32 206.35,206.35 206.60,206.38 206.85,206.40 207.10,206.42 207.35,206.43 207.60,206.45 207.85,206.46 208.10,206.47 208.35,206.47 208.60,206.48 208.85,206.49 209.10,206.49 209.35,206.50 209.60,206.50 209.85,206.50 210.10,206.50 210.35,206.50 210.60,206.51 210.85,206.51 211.10,206.51 211.35,206.50 211.60,206.50 211.85,206.50 212.10,206.50 212.35,206.49 212.60,206.49 212.85,206.48 213.10,206.48 213.35,206.47 213.60,206.46 213.85,206.45 214.10,206.45 214.35,206.43 214.60,206.42 214.85,206.41 215.10,206.40 215.35,206.38 215.60,206.36 215.85,206.34 216.10,206.32 216.35,206.29 216.60,206.26 216.85,206.22 217.10,206.18 217.35,206.13 217.60,206.07 217.85,206.00 218.10,205.92 218.35,205.83 218.60,205.73 218.85,205.61 219.10,205.48 219.35,205.33 219.60,205.17 219.85,204.99 220.10,204.79 220.35,204.58 220.60,204.36 220.85,204.12 221.10,203.89 221.35,203.65 221.60,203.43 221.85,203.22 222.10,203.05 222.35,202.91 222.60,202.83 222.85,202.80 223.10,202.83 223.35,202.91 223.60,203.03 223.85,203.19 224.10,203.38 224.35,203.57 224.60,203.77 224.85,203.97 225.10,204.15 225.35,204.32 225.60,204.46 225.85,204.58 226.10,204.68 226.35,204.75 226.60,204.80 226.85,204.82 227.10,204.82 227.35,204.79 227.60,204.74 227.85,204.68 228.10,204.60 228.35,204.51 228.60,204.41 228.85,204.32 229.10,204.23 229.35,204.16 229.60,204.11 229.85,204.09 230.10,204.11 230.35,204.16 230.60,204.24 230.85,204.35 231.10,204.47 231.35,204.62 231.60,204.76 231.85,204.92 232.10,205.07 232.35,205.21 232.60,205.35 232.85,205.48 233.10,205.60 233.35,205.71 233.60,205.81 233.85,205.89 234.10,205.97 234.35,206.04 234.60,206.10 234.85,206.16 235.10,206.20 235.35,206.24 235.60,206.28 235.85,206.31 236.10,206.33 236.35,206.35 236.60,206.37 236.85,206.39 237.10,206.40 237.35,206.42 237.60,206.43 237.85,206.44 238.10,206.45 238.35,206.45 238.60,206.46 238.85,206.47 239.10,206.47 239.35,206.48 239.60,206.48 239.85,206.49 240.10,206.49 240.35,206.50 240.60,206.50 240.85,206.50 241.10,206.50 241.35,206.51 241.60,206.51 241.85,206.51 242.10,206.51 242.35,206.51 242.60,206.51 242.85,206.51 243.10,206.51 243.35,206.51 243.60,206.51 243.85,206.51 244.10,206.51 244.35,206.51 244.60,206.50 244.85,206.50 245.10,206.51 245.35,206.52 245.60,206.53 245.85,206.54 246.10,206.55 246.35,206.57 246.60,206.58 246.85,206.59 247.10,206.60 247.35,206.61 247.60,206.62 247.85,206.63 248.10,206.63 248.35,206.64 248.60,206.65 248.85,206.65 249.10,206.66 249.35,206.66 249.60,206.66 249.85,206.66 250.10,206.66 250.35,206.65 250.60,206.64 250.85,206.63 251.10,206.62 251.35,206.60 251.60,206.57 251.85,206.54 252.10,206.50 252.35,206.45 252.60,206.40 252.85,206.33 253.10,206.26 253.35,206.17 253.60,206.07 253.85,205.96 254.10,205.83 254.35,205.69 254.60,205.53 254.85,205.37 255.10,205.19 255.35,205.00 255.60,204.80 255.85,204.60 256.10,204.40 256.35,204.21 256.60,204.03 256.85,203.87 257.10,203.74 257.35,203.65 257.60,203.60 257.85,203.60 258.10,203.65 258.35,203.75 258.60,203.89 258.85,204.06 259.10,204.26 259.35,204.48 259.60,204.71 259.85,204.94 260.10,205.17 260.35,205.40 260.60,205.61 260.85,205.82 261.10,206.01 261.35,206.19 261.60,206.36 261.85,206.51" fill="none" stroke="#555555" stroke-width="1.4" stroke-linejoin="round"/>
<polyline points="299.60,193.30 299.85,193.29 300.10,193.29 300.35,193.29 300.60,193.29 300.85,193.28 301.10,193.28 301.35,193.27 301.60,193.27 301.85,193.27 302.10,193.26 302.35,193.26 302.60,193.26 302.85,193.25 303.10,193.25 303.35,193.24 303.60,193.24 303.85,193.24 304.10,193.23 304.35,193.23 304.60,193.22 304.85,193.22 305.10,193.22 305.35,193.21 305.60,193.21 305.85,193.21 306.10,193.20 306.35,193.20 306.60,193.19 306.85,193.19 307.10,193.19 307.35,193.18 307.60,193.18 307.85,193.17 308.10,193.17 308.35,193.17 308.60,193.16 308.85,193.16 309.10,193.15 309.35,193.15 309.60,193.15 309.85,193.14 310.10,193.14 310.35,193.13 310.60,193.13 310.85,193.13 311.10,193.12 311.35,193.12 311.60,193.11 311.85,193.11 312.10,193.10 312.35,193.10 312.60,193.10 312.85,193.09 313.10,193.09 313.35,193.08 313.60,193.08 313.85,193.08 314.10,193.07 314.35,193.07 314.60,193.06 314.85,193.06 315.10,193.05 315.35,193.05 315.60,193.05 315.85,193.04 316.10,193.04 316.35,193.03 316.60,193.03 316.85,193.03 317.10,193.02 317.35,193.02 317.60,193.01 317.85,193.01 318.10,193.00 318.35,193.00 318.60,193.00 318.85,192.99 319.10,192.99 319.35,192.98 319.60,192.98 319.85,192.97 320.10,192.97 320.35,192.96 320.60,192.96 320.85,192.96 321.10,192.95 321.35,192.95 321.60,192.94 321.85,192.94 322.10,192.93 322.35,192.93 322.60,192.93 322.85,192.92 323.10,192.92 323.35,192.91 323.60,192.91 323.85,192.90 324.10,192.90 324.35,192.89 324.60,192.89 324.85,192.89 325.10,192.88 325.35,192.88 325.60,192.87 325.85,192.87 326.10,192.86 326.35,192.86 326.60,192.85 326.85,192.85 327.10,192.84 327.35,192.84 327.60,192.84 327.85,192.83 328.10,192.83 328.35,192.82 328.60,192.82 328.85,192.81 329.10,192.81 329.35,192.80 329.60,192.80 329.85,192.79 330.10,192.79 330.35,192.78 330.60,192.78 330.85,192.78 331.10,192.77 331.35,192.77 331.60,192.76 331.85,192.76 332.10,192.75 332.35,192.75 332.60,192.74 332.85,192.74 333.10,192.73 333.35,192.73 333.60,192.72 333.85,192.72 334.10,192.71 334.35,192.71 334.60,192.70 334.85,192.70 335.10,192.69 335.35,192.69 335.60,192.69 335.85,192.68 336.10,192.68 336.35,192.67 336.60,192.67 336.85,192.66 337.10,192.66 337.35,192.65 337.60,192.65 337.85,192.64 338.10,192.64 338.35,192.63 338.60,192.63 338.85,192.62 339.10,192.62 339.35,192.61 339.60,192.61 339.85,192.60 340.10,192.60 340.35,192.59 340.60,192.59 340.85,192.58 341.10,192.58 341.35,192.57 341.60,192.57 341.85,192.56 342.10,192.56 342.35,192.55 342.60,192.55 342.85,192.54 343.10,192.54 343.35,192.53 343.60,192.53 343.85,192.52 344.10,192.52 344.35,192.51 344.60,192.51 344.85,192.50 345.10,192.50 345.35,192.49 345.60,192.49 345.85,192.48 346.10,192.48 346.35,192.47 346.60,192.47 346.85,192.46 347.10,192.46 347.35,192.45 347.60,192.45 347.85,192.44 348.10,192.44 348.35,192.43 348.60,192.43 348.85,192.42 349.10,192.41 349.35,192.41 349.60,192.40 349.85,192.40 350.10,192.39 350.35,192.39 350.60,192.38 350.85,192.38 351.10,192.37 351.35,192.37 351.60,192.36 351.85,192.36 352.10,192.35 352.35,192.35 352.60,192.34 352.85,192.33 353.10,192.33 353.35,192.32 353.60,192.32 353.85,192.31 354.10,192.31 354.35,192.30 354.60,192.30 354.85,192.29 355.10,192.29 355.35,192.28 355.60,192.27 355.85,192.27 356.10,192.26 356.35,192.26 356.60,192.25 356.85,192.25 357.10,192.24 357.35,192.24 357.60,192.23 357.85,192.22 358.10,192.22 358.35,192.21 358.60,192.21 358.85,192.20 359.10,192.20 359.35,192.19 359.60,192.18 359.85,192.18 360.10,192.17 360.35,192.17 360.60,192.16 360.85,192.16 361.10,192.15 361.35,192.15 361.60,192.14 361.85,192.13 362.10,192.13 362.35,192.12 362.60,192.12 362.85,192.11 363.10,192.10 363.35,192.10 363.60,192.09 363.85,192.09 364.10,192.08 364.35,192.08 364.60,192.07 364.85,192.06 365.10,192.06 365.35,192.05 365.60,192.05 365.85,192.04 366.10,192.04 366.35,192.03 366.60,192.02 366.85,192.02 367.10,192.01 367.35,192.01 367.60,192.00 367.85,191.99 368.10,191.99 368.35,191.98 368.60,191.98 368.85,191.97 369.10,191.96 369.35,191.96 369.60,191.95 369.85,191.95 370.10,191.94 370.35,191.93 370.60,191.93 370.85,191.92 371.10,191.92 371.35,191.91 371.60,191.90 371.85,191.90 372.10,191.89 372.35,191.89 372.60,191.88 372.85,191.87 373.10,191.87 373.35,191.86 373.60,191.86 373.85,191.85 374.10,191.84 374.35,191.84 374.60,191.83 374.85,191.83 375.10,191.82 375.35,191.81 375.60,191.81 375.85,191.80 376.10,191.80 376.35,191.79 376.60,191.78 376.85,191.78 377.10,191.77 377.35,191.77 377.60,191.76 377.85,191.75 378.10,191.75 378.35,191.74 378.60,191.73 378.85,191.73 379.10,191.72 379.35,191.72 379.60,191.71 379.85,191.70 380.10,191.70 380.35,191.69 380.60,191.69 380.85,191.68 381.10,191.67 381.35,191.67 381.60,191.66 381.85,191.65 382.10,191.65 382.35,191.64 382.60,191.64 382.85,191.63 383.10,191.62 383.35,191.62 383.60,191.61 383.85,191.60 384.10,191.60 384.35,191.59 384.60,191.58 384.85,191.58 385.10,191.57 385.35,191.57 385.60,191.56 385.85,191.55 386.10,191.55 386.35,191.54 386.60,191.53 386.85,191.53 387.10,191.52 387.35,191.51 387.60,191.51 387.85,191.50 388.10,191.49 388.35,191.49 388.60,191.48 388.85,191.48 389.10,191.47 389.35,191.46 389.60,191.46 389.85,191.45 390.10,191.44 390.35,191.44 390.60,191.43 390.85,191.42 391.10,191.42 391.35,191.41 391.60,191.40 391.85,191.40 392.10,191.39 392.35,191.38 392.60,191.38 392.85,191.37 393.10,191.36 393.35,191.36 393.60,191.35 393.85,191.34 394.10,191.34 394.35,191.33 394.60,191.32 394.85,191.32 395.10,191.31 395.35,191.30 395.60,191.30 395.85,191.29 396.10,191.28 396.35,191.28 396.60,191.27 396.85,191.26 397.10,191.26 397.35,191.25 397.60,191.24 397.85,191.24 398.10,191.23 398.35,191.22 398.60,191.21 398.85,191.21 399.10,191.20 399.35,191.19 399.60,191.19 399.85,191.18 400.10,191.17 400.35,191.17 400.60,191.16 400.85,191.15 401.10,191.15 401.35,191.14 401.60,191.13 401.85,191.12 402.10,191.12 402.35,191.11 402.60,191.10 402.85,191.10 403.10,191.09 403.35,191.08 403.60,191.08 403.85,191.07 404.10,191.06 404.35,191.06 404.60,191.05 404.85,191.04 405.10,191.03 405.35,191.03 405.60,191.02 405.85,191.01 406.10,191.01 406.35,191.00 406.60,190.99 406.85,190.98 407.10,190.98 407.35,190.97 407.60,190.96 407.85,190.96 408.10,190.95 408.35,190.94 408.60,190.93 408.85,190.93 409.10,190.92 409.35,190.91 409.60,190.91 409.85,190.90 410.10,190.89 410.35,190.88 410.60,190.88 410.85,190.87 411.10,190.86 411.35,190.86 411.60,190.85 411.85,190.84 412.10,190.83 412.35,190.83 412.60,190.82 412.85,190.81 413.10,190.80 413.35,190.80 413.60,190.79 413.85,190.78 414.10,190.77 414.35,190.77 414.60,190.76 414.85,190.75 415.10,190.75 415.35,190.74 415.60,190.73 415.85,190.72 416.10,190.72 416.35,190.71 416.60,190.70 416.85,190.69 417.10,190.69 417.35,190.68 417.60,190.67 417.85,190.66 418.10,190.66 418.35,190.65 418.60,190.64 418.85,190.63 419.10,190.63 419.35,190.62 419.60,190.61 419.85,190.60 420.10,190.60 420.35,190.59 420.60,190.58 420.85,190.57 421.10,190.56 421.35,190.56 421.60,190.55 421.85,190.54 422.10,190.53 422.35,190.52 422.60,190.51 422.85,190.50 423.10,190.49 423.35,190.48 423.60,190.47 423.85,190.46 424.10,190.45 424.35,190.44 424.60,190.43 424.85,190.42 425.10,190.41 425.35,190.40 425.60,190.39 425.85,190.38 426.10,190.37 426.35,190.36 426.60,190.35 426.85,190.34 427.10,190.33 427.35,190.32 427.60,190.31 427.85,190.29 428.10,190.28 428.35,190.27 428.60,190.26 428.85,190.25 429.10,190.24 429.35,190.23 429.60,190.22 429.85,190.21 430.10,190.20 430.35,190.19 430.60,190.18 430.85,190.17 431.10,190.16 431.35,190.15 431.60,190.14 431.85,190.13 432.10,190.12 432.35,190.11 432.60,190.10 432.85,190.09 433.10,190.08 433.35,190.07 433.60,190.06 433.85,190.05 434.10,190.04 434.35,190.04 434.60,190.03 434.85,190.02 435.10,190.01 435.35,190.00 435.60,190.00 435.85,189.99 436.10,189.98 436.35,189.98 436.60,189.97 436.85,189.96 437.10,189.96 437.35,189.95 437.60,189.95 437.85,189.94 438.10,189.94 438.35,189.93 438.60,189.93 438.85,189.92 439.10,189.92 439.35,189.92 439.60,189.91 439.85,189.91 440.10,189.91 440.35,189.91 440.60,189.90 440.85,189.90 441.10,189.90 441.35,189.90 441.60,189.90 441.85,189.91 442.10,189.91 442.35,189.91 442.60,189.92 442.85,189.93 443.10,189.94 443.35,189.95 443.60,189.96 443.85,189.98 444.10,189.99 444.35,190.01 444.60,190.03 444.85,190.05 445.10,190.07 445.35,190.09 445.60,190.12 445.85,190.14 446.10,190.17 446.35,190.19 446.60,190.22 446.85,190.25 447.10,190.28 447.35,190.31 447.60,190.34 447.85,190.37 448.10,190.40 448.35,190.44 448.60,190.47 448.85,190.50 449.10,190.54 449.35,190.57 449.60,190.61 449.85,190.64 450.10,190.68 450.35,190.72 450.60,190.75 450.85,190.79 451.10,190.82 451.35,190.86 451.60,190.90 451.85,190.93 452.10,190.97 452.35,191.00 452.60,191.04 452.85,191.07 453.10,191.11 453.35,191.14 453.60,191.18 453.85,191.21 454.10,191.24 454.35,191.27 454.60,191.31 454.85,191.34 455.10,191.37 455.35,191.40 455.60,191.42 455.85,191.45 456.10,191.48 456.35,191.51 456.60,191.53 456.85,191.56 457.10,191.59 457.35,191.61 457.60,191.64 457.85,191.67 458.10,191.70 458.35,191.73 458.60,191.76 458.85,191.79 459.10,191.82 459.35,191.85 459.60,191.88 459.85,191.92 460.10,191.95 460.35,191.98 460.60,192.01 460.85,192.03 461.10,192.06 461.35,192.09 461.60,192.12 461.85,192.15 462.10,192.17 462.35,192.20 462.60,192.22 462.85,192.24 463.10,192.26 463.35,192.28 463.60,192.30 463.85,192.32 464.10,192.33 464.35,192.35 464.60,192.36 464.85,192.37 465.10,192.38 465.35,192.39 465.60,192.39 465.85,192.40 466.10,192.40 466.35,192.40 466.60,192.40 466.85,192.40 467.10,192.40 467.35,192.40 467.60,192.40 467.85,192.40 468.10,192.40 468.35,192.40 468.60,192.39 468.85,192.39 469.10,192.39 469.35,192.39 469.60,192.39 469.85,192.39 470.10,192.39 470.35,192.39 470.60,192.38 470.85,192.38 471.10,192.38 471.35,192.38 471.60,192.38 471.85,192.37 472.10,192.37 472.35,192.37 472.60,192.37 472.85,192.37 473.10,192.36 473.35,192.36 473.60,192.36 473.85,192.36 474.10,192.36 474.35,192.35 474.60,192.35 474.85,192.35 475.10,192.35 475.35,192.34 475.60,192.34 475.85,192.34 476.10,192.34 476.35,192.33 476.60,192.33 476.85,192.33 477.10,192.33 477.35,192.33 477.60,192.32 477.85,192.32 478.10,192.32 478.35,192.32 478.60,192.31 478.85,192.31 479.10,192.31 479.35,192.31 479.60,192.30 479.85,192.30 480.10,192.30 480.35,192.30 480.60,192.29 480.85,192.29 481.10,192.29 481.35,192.29 481.60,192.28 481.85,192.28 482.10,192.28 482.35,192.28 482.60,192.28 482.85,192.27 483.10,192.27 483.35,192.27 483.60,192.26 483.85,192.26 484.10,192.26 484.35,192.26 484.60,192.25 484.85,192.25 485.10,192.25 485.35,192.25 485.60,192.24 485.85,192.24 486.10,192.24 486.35,192.23 486.60,192.23 486.85,192.23 487.10,192.23 487.35,192.22 487.60,192.22 487.85,192.22 488.10,192.21 488.35,192.21 488.60,192.21 488.85,192.20 489.10,192.20 489.35,192.20 489.60,192.20 489.85,192.19 490.10,192.19 490.35,192.19 490.60,192.18 490.85,192.18 491.10,192.18 491.35,192.17 491.60,192.17 491.85,192.17 492.10,192.16 492.35,192.16 492.60,192.16 492.85,192.15 493.10,192.15 493.35,192.15 493.60,192.14 493.85,192.14 494.10,192.14 494.35,192.13 494.60,192.13 494.85,192.13 495.10,192.12 495.35,192.12 495.60,192.11 495.85,192.11 496.10,192.11 496.35,192.10 496.60,192.10 496.85,192.10 497.10,192.09 497.35,192.09 497.60,192.09 497.85,192.08 498.10,192.08 498.35,192.08 498.60,192.07 498.85,192.07 499.10,192.06 499.35,192.06 499.60,192.06 499.85,192.05 500.10,192.05 500.35,192.05 500.60,192.04 500.85,192.04 501.10,192.04 501.35,192.03 501.60,192.03 501.85,192.02 502.10,192.02 502.35,192.02 502.60,192.01 502.85,192.01 503.10,192.01 503.35,192.00 503.60,192.00 503.85,191.99 504.10,191.99 504.35,191.99 504.60,191.98 504.85,191.98 505.10,191.97 505.35,191.97 505.60,191.97 505.85,191.96 506.10,191.96 506.35,191.96 506.60,191.95 506.85,191.95 507.10,191.94 507.35,191.94 507.60,191.94 507.85,191.93 508.10,191.93 508.35,191.93 508.60,191.92 508.85,191.92 509.10,191.91 509.35,191.91 509.60,191.91 509.85,191.90 510.10,191.90 510.35,191.89 510.60,191.89 510.85,191.89 511.10,191.88 511.35,191.88 511.60,191.88 511.85,191.87 512.10,191.87 512.35,191.86 512.60,191.86 512.85,191.86 513.10,191.85 513.35,191.85 513.60,191.84 513.85,191.84 514.10,191.84 514.35,191.83 514.60,191.83 514.85,191.82 515.10,191.82 515.35,191.82 515.60,191.81 515.85,191.81 516.10,191.80 516.35,191.80 516.60,191.80 516.85,191.79 517.10,191.79 517.35,191.78 517.60,191.78 517.85,191.77 518.10,191.77 518.35,191.77 518.60,191.76 518.85,191.76 519.10,191.75 519.35,191.75 519.60,191.75 519.85,191.74 520.10,191.74 520.35,191.73 520.60,191.73 520.85,191.72 521.10,191.72 521.35,191.72 521.60,191.71 521.85,191.71 522.10,191.70 522.35,191.70 522.60,191.69 522.85,191.69 523.10,191.68 523.35,191.68 523.60,191.68 523.85,191.67 524.10,191.67 524.35,191.66 524.60,191.66 524.85,191.65 525.10,191.65 525.35,191.64 525.60,191.64 525.85,191.64 526.10,191.63 526.35,191.63 526.60,191.62 526.85,191.62 527.10,191.61 527.35,191.61 527.60,191.60 527.85,191.60 528.10,191.59 528.35,191.59 528.60,191.59 528.85,191.58 529.10,191.58 529.35,191.57 529.60,191.57 529.85,191.56 530.10,191.56 530.35,191.55 530.60,191.55 530.85,191.54 531.10,191.54 531.35,191.53 531.60,191.53 531.85,191.52 532.10,191.52 532.35,191.52 532.60,191.51 532.85,191.51 533.10,191.50 533.35,191.50 533.60,191.49 533.85,191.49 534.10,191.48 534.35,191.48 534.60,191.47 534.85,191.47 535.10,191.46 535.35,191.46 535.60,191.45 535.85,191.45 536.10,191.44 536.35,191.44 536.60,191.43 536.85,191.43 537.10,191.42 537.35,191.42 537.60,191.42 537.85,191.41 538.10,191.41" fill="none" stroke="#555555" stroke-width="1.4" stroke-linejoin="round"/>
<circle cx="79.3" cy="28.5" r="1.75" fill="#1a1a1a"/>
<circle cx="92.8" cy="43.6" r="1.75" fill="#1a1a1a"/>
<circle cx="135.7" cy="39.3" r="1.75" fill="#1a1a1a"/>
<circle cx="162.4" cy="42.8" r="1.75" fill="#1a1a1a"/>
<circle cx="170.2" cy="50.1" r="1.75" fill="#1a1a1a"/>
<circle cx="200.8" cy="50.2" r="1.75" fill="#1a1a1a"/>
<circle cx="222.7" cy="49.4" r="1.75" fill="#1a1a1a"/>
<circle cx="230.1" cy="50.1" r="1.75" fill="#1a1a1a"/>
<circle cx="257.8" cy="50.1" r="1.75" fill="#1a1a1a"/>
<circle cx="231.4" cy="17.9" r="2.1" fill="#111"/>
<text x="233.8" y="20.8" font-size="11.8" fill="#111" stroke="#111" stroke-width="0.22"><tspan>CeO</tspan><tspan dy="3.30" font-size="7.79">2</tspan></text>
<text x="25.1" y="17.8" font-size="11.4" fill="#111" stroke="#111" stroke-width="0.22" text-anchor="start" >(a)</text>
<text x="301.9" y="17.9" font-size="11.4" fill="#111" stroke="#111" stroke-width="0.22" text-anchor="start" >(b)</text>
<text x="24.7" y="46.3" font-size="9.05" fill="#2ec42e" stroke="#2ec42e" stroke-width="0.12"><tspan>20%K/CeO</tspan><tspan dy="2.53" font-size="5.61">2</tspan></text>
<text x="24.6" y="82.9" font-size="9.05" fill="#cc72e8" stroke="#cc72e8" stroke-width="0.12"><tspan>15%K/CeO</tspan><tspan dy="2.53" font-size="5.61">2</tspan></text>
<text x="24.4" y="124.3" font-size="9.05" fill="#14c8c8" stroke="#14c8c8" stroke-width="0.12"><tspan>10%K/CeO</tspan><tspan dy="2.53" font-size="5.61">2</tspan></text>
<text x="24.5" y="166.8" font-size="9.05" fill="#ecab2a" stroke="#ecab2a" stroke-width="0.12"><tspan>5%K/CeO</tspan><tspan dy="2.53" font-size="5.61">2</tspan></text>
<text x="24.6" y="199.8" font-size="9.05" fill="#555555" stroke="#555555" stroke-width="0.12"><tspan>CeO</tspan><tspan dy="2.53" font-size="5.61">2</tspan></text>
<text x="302.0" y="67.6" font-size="8.9" fill="#2ec42e" stroke="#2ec42e" stroke-width="0.12"><tspan>20%K/CeO</tspan><tspan dy="2.49" font-size="5.52">2</tspan></text>
<text x="301.6" y="104.0" font-size="8.9" fill="#cc72e8" stroke="#cc72e8" stroke-width="0.12"><tspan>15%K/CeO</tspan><tspan dy="2.49" font-size="5.52">2</tspan></text>
<text x="301.6" y="132.5" font-size="8.9" fill="#14c8c8" stroke="#14c8c8" stroke-width="0.12"><tspan>10%K/CeO</tspan><tspan dy="2.49" font-size="5.52">2</tspan></text>
<text x="301.8" y="162.5" font-size="8.9" fill="#ecab2a" stroke="#ecab2a" stroke-width="0.12"><tspan>5%K/CeO</tspan><tspan dy="2.49" font-size="5.52">2</tspan></text>
<text x="302.5" y="189.4" font-size="8.9" fill="#2a2a2a" stroke="#2a2a2a" stroke-width="0.12"><tspan>CeO</tspan><tspan dy="2.49" font-size="5.52">2</tspan></text>
<line x1="464.4" y1="15.4" x2="464.4" y2="26.5" stroke="#2ec42e" stroke-width="1.3" stroke-opacity="0.7"/>
<text x="463.6" y="37.8" font-size="7.7" fill="#2ec42e" stroke="#2ec42e" stroke-width="0.12" text-anchor="middle" >675</text>
<line x1="459.6" y1="56.2" x2="459.6" y2="66.3" stroke="#cc72e8" stroke-width="1.3" stroke-opacity="0.7"/>
<text x="458.0" y="78.8" font-size="7.7" fill="#cc72e8" stroke="#cc72e8" stroke-width="0.12" text-anchor="middle" >668</text>
<line x1="457.8" y1="83.0" x2="457.8" y2="93.1" stroke="#14c8c8" stroke-width="1.3" stroke-opacity="0.7"/>
<text x="457.6" y="108.9" font-size="7.7" fill="#14c8c8" stroke="#14c8c8" stroke-width="0.12" text-anchor="middle" >665</text>
<line x1="409.2" y1="155.4" x2="409.2" y2="166.3" stroke="#ecab2a" stroke-width="1.3" stroke-opacity="0.7"/>
<text x="409.2" y="175.5" font-size="7.7" fill="#ecab2a" stroke="#ecab2a" stroke-width="0.12" text-anchor="middle" >583</text>
<line x1="442.0" y1="186.0" x2="442.0" y2="196.4" stroke="#555555" stroke-width="1.3" stroke-opacity="0.7"/>
<text x="442.1" y="205.9" font-size="7.7" fill="#333333" stroke="#333333" stroke-width="0.12" text-anchor="middle" >638</text>
<text x="142.9" y="245.9" font-size="9.9" fill="#111" stroke="#111" stroke-width="0.22" text-anchor="middle" >2θ/(<tspan dy="0.15" font-size="9.4">°</tspan><tspan dy="-0.15">)</tspan></text>
<text x="419.6" y="245.0" font-size="9.75" fill="#111" stroke="#111" stroke-width="0.22" text-anchor="middle" >Temperature (°C)</text>
<text x="0" y="0" font-size="9.7" fill="#111" stroke="#111" stroke-width="0.22" text-anchor="middle" transform="translate(11.7,111.8) rotate(-90)">Intensity (a.u.)</text>
<text x="0" y="0" font-size="9.7" fill="#111" stroke="#111" stroke-width="0.22" text-anchor="middle" transform="translate(288.2,112) rotate(-90)">TCD Signal (a.u.)</text>
</svg>
</body></html>
